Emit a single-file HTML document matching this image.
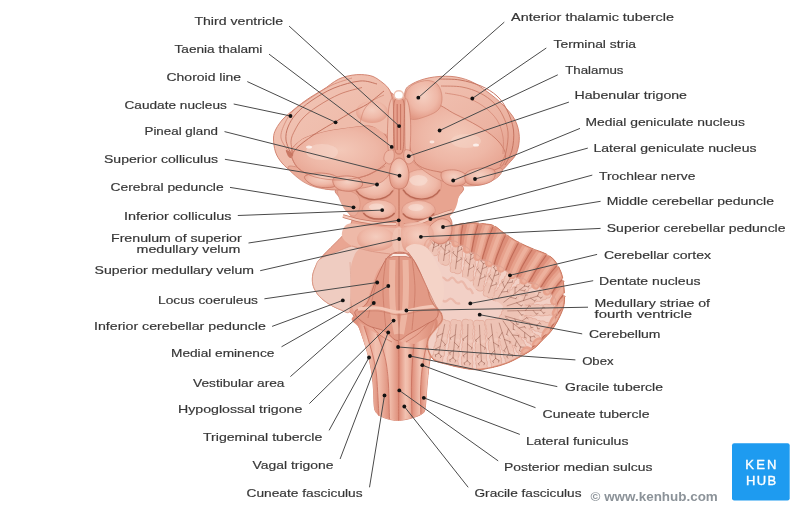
<!DOCTYPE html>
<html><head><meta charset="utf-8"><style>
html,body{margin:0;padding:0;background:#fff;width:800px;height:512px;overflow:hidden}
svg{display:block;will-change:transform}
text{font-family:"Liberation Sans",sans-serif;font-size:11.6px;fill:#363636;stroke:#363636;stroke-width:0.18px}
</style></head><body>
<svg width="800" height="512" viewBox="0 0 800 512">
<defs>
<radialGradient id="gL" cx="0.62" cy="0.62" r="0.65">
 <stop offset="0" stop-color="#f2c4b4"/><stop offset="0.5" stop-color="#edb3a2"/><stop offset="1" stop-color="#e29985"/>
</radialGradient>
<radialGradient id="gR" cx="0.38" cy="0.62" r="0.65">
 <stop offset="0" stop-color="#f2c4b4"/><stop offset="0.5" stop-color="#edb3a2"/><stop offset="1" stop-color="#e29985"/>
</radialGradient>
<linearGradient id="gMed" x1="0" x2="1" y1="0" y2="0">
 <stop offset="0" stop-color="#dc8b76"/><stop offset="0.22" stop-color="#e9a591"/><stop offset="0.5" stop-color="#efb6a4"/><stop offset="0.78" stop-color="#e8a490"/><stop offset="1" stop-color="#d98974"/>
</linearGradient>
<radialGradient id="gBump" cx="0.5" cy="0.4" r="0.62">
 <stop offset="0" stop-color="#f5d0c2"/><stop offset="0.6" stop-color="#efb8a7"/><stop offset="1" stop-color="#e29884"/>
</radialGradient>
<radialGradient id="gTh" cx="0.5" cy="0.45" r="0.6">
 <stop offset="0" stop-color="#f3c8b8"/><stop offset="0.6" stop-color="#eeb7a6"/><stop offset="1" stop-color="#e8a592"/>
</radialGradient>
<linearGradient id="gStripe" x1="0" x2="1" y1="0" y2="0">
 <stop offset="0" stop-color="#dc8f7a"/><stop offset="0.5" stop-color="#f1b8a5"/><stop offset="1" stop-color="#dc8f7a"/>
</linearGradient>
<linearGradient id="gCol" x1="0" x2="1" y1="0" y2="0">
 <stop offset="0" stop-color="#dd8a76"/><stop offset="0.45" stop-color="#f2c1b0"/><stop offset="0.6" stop-color="#f0bba9"/><stop offset="1" stop-color="#de8e7a"/>
</linearGradient>
<linearGradient id="gLobeL" x1="0" y1="0.2" x2="0.7" y2="1">
 <stop offset="0" stop-color="#f1c4b5"/><stop offset="0.55" stop-color="#efbcab"/><stop offset="1" stop-color="#e29985"/>
</linearGradient>
<linearGradient id="gLobeR" x1="0.2" y1="0.1" x2="0.9" y2="1">
 <stop offset="0" stop-color="#f0c0b0"/><stop offset="0.55" stop-color="#ecb3a2"/><stop offset="1" stop-color="#df937f"/>
</linearGradient>
</defs>
<path d="M388.0,92.0 C385.8,93.7 391.7,108.7 392.0,120.0 C392.3,131.3 393.7,149.2 390.0,160.0 C386.3,170.8 378.8,180.2 370.0,185.0 C361.2,189.8 342.0,186.8 337.0,189.0 C332.0,191.2 338.5,195.2 340.0,198.0 C341.5,200.8 344.3,203.3 346.0,206.0 C347.7,208.7 349.0,211.7 350.0,214.0 C351.0,216.3 352.2,217.7 352.0,220.0 C351.8,222.3 350.2,225.4 348.6,228.0 C347.1,230.6 345.0,233.0 342.7,235.6 C340.4,238.2 337.6,240.8 335.0,243.4 C332.4,246.0 329.5,248.7 327.0,251.3 C324.5,253.9 321.9,256.4 320.0,259.0 C318.1,261.6 316.6,264.1 315.4,267.0 C314.1,269.9 312.8,273.4 312.5,276.6 C312.2,279.8 312.3,283.1 313.4,286.4 C314.5,289.7 316.7,293.3 319.3,296.2 C321.9,299.1 325.4,301.7 329.0,304.0 C332.6,306.3 337.3,308.5 340.8,309.8 C344.3,311.1 347.6,310.6 350.0,312.0 C352.4,313.4 353.6,315.7 355.0,318.0 C356.4,320.3 357.4,323.3 358.5,326.0 C359.6,328.7 360.4,330.8 361.5,334.0 C362.6,337.2 363.9,340.9 365.2,345.0 C366.4,349.1 367.9,353.8 369.0,358.6 C370.1,363.4 371.2,368.6 372.0,374.0 C372.8,379.4 373.2,385.7 373.6,391.0 C374.0,396.3 373.7,402.3 374.2,406.0 C374.7,409.7 374.9,411.0 376.6,413.0 C378.3,415.0 381.5,416.6 384.4,417.8 C387.3,419.0 390.9,419.8 393.8,420.2 C396.6,420.6 398.5,420.6 401.6,420.2 C404.7,419.8 409.1,418.9 412.5,417.8 C415.9,416.8 419.8,415.4 421.9,413.9 C424.0,412.4 424.2,412.8 425.0,409.0 C425.8,405.2 426.1,396.6 426.6,391.0 C427.1,385.4 427.4,380.8 428.0,375.6 C428.6,370.4 428.7,365.9 430.0,360.0 C431.3,354.1 432.7,350.0 436.0,340.0 C439.3,330.0 447.7,315.0 450.0,300.0 C452.3,285.0 449.7,262.7 450.0,250.0 C450.3,237.3 452.2,229.8 452.0,224.0 C451.8,218.2 449.0,217.8 449.0,215.0 C449.0,212.2 450.5,210.0 452.0,207.0 C453.5,204.0 456.3,200.5 458.0,197.0 C459.7,193.5 466.7,189.7 462.0,186.0 C457.3,182.3 438.7,181.0 430.0,175.0 C421.3,169.0 414.2,160.8 410.0,150.0 C405.8,139.2 408.7,119.7 405.0,110.0 C401.3,100.3 390.2,90.3 388.0,92.0Z" fill="#e9a592" stroke="#cf7d69" stroke-width="0.9" />
<path d="M354.0,316.0 C347.2,320.7 357.2,323.2 359.0,328.0 C360.8,332.8 363.3,339.9 365.0,345.0 C366.7,350.1 367.8,353.8 369.0,358.6 C370.2,363.4 371.2,368.6 372.0,374.0 C372.8,379.4 373.2,385.7 373.6,391.0 C374.0,396.3 373.7,402.3 374.2,406.0 C374.7,409.7 374.9,411.0 376.6,413.0 C378.3,415.0 381.5,416.6 384.4,417.8 C387.3,419.0 390.9,419.8 393.8,420.2 C396.6,420.6 398.5,420.6 401.6,420.2 C404.7,419.8 409.1,418.9 412.5,417.8 C415.9,416.8 419.8,415.4 421.9,413.9 C424.0,412.4 424.2,412.8 425.0,409.0 C425.8,405.2 426.1,396.6 426.6,391.0 C427.1,385.4 427.4,380.8 428.0,375.6 C428.6,370.4 429.3,365.9 430.0,360.0 C430.7,354.1 431.0,347.0 432.0,340.0 C433.0,333.0 441.3,324.7 436.0,318.0 C430.7,311.3 413.7,300.3 400.0,300.0 C386.3,299.7 360.8,311.3 354.0,316.0Z" fill="url(#gMed)" stroke="none" stroke-width="0.8" />
<path d="M356.0,318.0 L361.0,333.0 L366.0,348.0 L370.0,363.0 L372.5,378.0 L373.6,391.0 L374.2,406.0 L376.6,413.0 L379.0,416.0 L378.0,398.0 L376.5,375.0 L373.5,358.0 L369.0,342.0 L364.0,326.0Z" fill="url(#gCol)"/>
<path d="M364.0,326.0 L369.0,342.0 L373.5,358.0 L376.5,375.0 L378.0,398.0 L379.0,416.0 L389.5,419.0 L388.5,385.0 L386.5,365.0 L383.0,350.0 L377.0,334.0Z" fill="url(#gCol)"/>
<path d="M377.0,334.0 L383.0,350.0 L386.5,365.0 L388.5,385.0 L389.5,419.0 L398.6,420.5 L398.6,400.0 L398.8,380.0 L398.8,360.0 L398.5,341.0Z" fill="url(#gCol)"/>
<path d="M398.5,341.0 L398.8,360.0 L398.8,380.0 L398.6,400.0 L398.6,420.5 L412.0,418.0 L411.5,398.0 L411.6,378.0 L412.5,360.0 L414.0,344.0Z" fill="url(#gCol)"/>
<path d="M414.0,344.0 L412.5,360.0 L411.6,378.0 L411.5,398.0 L412.0,418.0 L420.8,414.0 L420.5,390.0 L422.0,370.0 L425.0,352.0 L430.0,336.0Z" fill="url(#gCol)"/>
<path d="M430.0,336.0 L425.0,352.0 L422.0,370.0 L420.5,390.0 L420.8,414.0 L425.0,409.0 L426.6,391.0 L428.0,375.0 L430.0,352.0 L433.0,336.0 L436.0,318.0Z" fill="url(#gCol)"/>
<path d="M364.0,326.0 C364.8,328.7 367.4,336.7 369.0,342.0 C370.6,347.3 372.2,352.5 373.5,358.0 C374.8,363.5 375.8,368.3 376.5,375.0 C377.2,381.7 377.6,391.2 378.0,398.0 C378.4,404.8 378.8,413.0 379.0,416.0" fill="none" stroke="#c8705d" stroke-width="0.9" opacity="0.9"/>
<path d="M377.0,334.0 C378.0,336.7 381.4,344.8 383.0,350.0 C384.6,355.2 385.6,359.2 386.5,365.0 C387.4,370.8 388.0,376.0 388.5,385.0 C389.0,394.0 389.3,413.3 389.5,419.0" fill="none" stroke="#c8705d" stroke-width="0.9" opacity="0.9"/>
<path d="M398.5,341.0 C398.6,344.2 398.8,353.5 398.8,360.0 C398.9,366.5 398.8,373.3 398.8,380.0 C398.8,386.7 398.6,393.2 398.6,400.0 C398.6,406.8 398.6,417.1 398.6,420.5" fill="none" stroke="#c8705d" stroke-width="0.9" opacity="0.9"/>
<path d="M414.0,344.0 C413.8,346.7 412.9,354.3 412.5,360.0 C412.1,365.7 411.8,371.7 411.6,378.0 C411.4,384.3 411.4,391.3 411.5,398.0 C411.6,404.7 411.9,414.7 412.0,418.0" fill="none" stroke="#c8705d" stroke-width="0.9" opacity="0.9"/>
<path d="M430.0,336.0 C429.2,338.7 426.3,346.3 425.0,352.0 C423.7,357.7 422.8,363.7 422.0,370.0 C421.2,376.3 420.7,382.7 420.5,390.0 C420.3,397.3 420.8,410.0 420.8,414.0" fill="none" stroke="#c8705d" stroke-width="0.9" opacity="0.9"/>
<path d="M368.0,322.0 C370.0,324.2 376.0,331.7 380.0,335.0 C384.0,338.3 390.0,340.8 392.0,342.0" fill="none" stroke="#c97764" stroke-width="0.8" />
<path d="M430.0,322.0 C428.0,324.0 422.0,330.7 418.0,334.0 C414.0,337.3 408.0,340.7 406.0,342.0" fill="none" stroke="#c97764" stroke-width="0.8" />
<path d="M320.0,259.0 C323.4,256.5 330.7,254.2 336.0,252.0 C341.3,249.8 347.7,247.0 352.0,246.0 C356.3,245.0 361.3,243.3 362.0,246.0 C362.7,248.7 357.7,255.5 356.0,262.0 C354.3,268.5 353.0,276.8 352.0,285.0 C351.0,293.2 351.9,306.9 350.0,311.0 C348.1,315.1 344.3,311.0 340.8,309.8 C337.3,308.6 332.6,306.3 329.0,304.0 C325.4,301.7 321.9,299.1 319.3,296.2 C316.7,293.3 314.5,289.7 313.4,286.4 C312.3,283.1 312.2,279.8 312.5,276.6 C312.8,273.4 314.1,269.9 315.4,267.0 C316.6,264.1 316.6,261.5 320.0,259.0Z" fill="#efccc1" stroke="#d99380" stroke-width="0.7" />
<path d="M350.0,262.0 C350.2,266.7 351.0,282.0 351.0,290.0 C351.0,298.0 350.2,306.7 350.0,310.0" fill="none" stroke="#e2a898" stroke-width="0.8" />
<path d="M352.0,262.0 C353.8,256.7 355.7,249.3 362.0,248.0 C368.3,246.7 387.5,250.0 390.0,254.0 C392.5,258.0 380.8,264.3 377.0,272.0 C373.2,279.7 370.5,293.2 367.0,300.0 C363.5,306.8 358.7,313.0 356.0,313.0 C353.3,313.0 351.8,305.5 351.0,300.0 C350.2,294.5 350.8,286.3 351.0,280.0 C351.2,273.7 350.2,267.3 352.0,262.0Z" fill="#ecb4a3" stroke="none" stroke-width="0.8" />
<path d="M348.0,224.0 C352.7,222.3 361.7,225.3 370.0,226.0 C378.3,226.7 388.3,228.0 398.0,228.0 C407.7,228.0 419.7,226.3 428.0,226.0 C436.3,225.7 445.0,223.7 448.0,226.0 C451.0,228.3 449.0,236.0 446.0,240.0 C443.0,244.0 436.0,247.7 430.0,250.0 C424.0,252.3 416.7,253.3 410.0,254.0 C403.3,254.7 397.0,254.5 390.0,254.0 C383.0,253.5 374.3,252.3 368.0,251.0 C361.7,249.7 356.3,248.5 352.0,246.0 C347.7,243.5 342.7,239.7 342.0,236.0 C341.3,232.3 343.3,225.7 348.0,224.0Z" fill="#eeb9a8" stroke="none" stroke-width="0.8" />
<ellipse cx="376" cy="239" rx="19" ry="12" fill="url(#gBump)" stroke="none" stroke-width="0.7" opacity="0.85"/>
<ellipse cx="421" cy="239" rx="17" ry="12" fill="url(#gBump)" stroke="none" stroke-width="0.7" opacity="0.85"/>
<ellipse cx="399" cy="240" rx="7" ry="13" fill="#f1c6b7" stroke="none" stroke-width="0.7" opacity="0.7"/>
<path d="M399.0,229.0 C399.0,232.8 399.0,248.2 399.0,252.0" fill="none" stroke="#e2a592" stroke-width="0.8" opacity="0.6"/>
<path d="M352.0,246.0 C355.0,246.8 363.7,249.7 370.0,251.0 C376.3,252.3 386.7,253.5 390.0,254.0" fill="none" stroke="#d48a77" stroke-width="0.7" />
<path d="M390.6,254.5 C395.8,251.1 404.1,251.6 409.0,254.5 C413.9,257.4 416.2,265.8 420.0,272.0 C423.8,278.2 429.0,284.8 432.0,292.0 C435.0,299.2 439.2,309.5 438.0,315.0 C436.8,320.5 429.8,321.8 425.0,325.0 C420.2,328.2 413.7,331.4 409.0,334.0 C404.3,336.6 401.1,341.0 397.0,340.5 C392.9,340.0 389.4,333.6 384.4,331.0 C379.4,328.4 371.9,328.1 367.0,325.0 C362.1,321.9 354.7,316.2 354.7,312.5 C354.7,308.8 363.1,309.2 367.0,303.0 C370.9,296.8 374.1,283.1 378.0,275.0 C381.9,266.9 385.4,257.9 390.6,254.5Z" fill="#e29a86" stroke="#c36f5c" stroke-width="0.9" />
<path d="M388.5,258 L393,253.5 L406,253.5 L411,258 L406,256.5 L393,256.5Z" fill="#fbeae3" stroke="#c36f5c" stroke-width="0.7"/>
<path d="M392.5,260.0 C392.4,264.2 391.9,276.7 392.0,285.0 C392.1,293.3 392.2,301.8 393.0,310.0 C393.8,318.2 396.3,330.0 397.0,334.0" fill="none" stroke="#f0bba9" stroke-width="6" opacity="0.8"/>
<path d="M405.5,260.0 C405.6,264.2 406.1,276.7 406.0,285.0 C405.9,293.3 405.8,301.8 405.0,310.0 C404.2,318.2 401.7,330.0 401.0,334.0" fill="none" stroke="#f0bba9" stroke-width="6" opacity="0.8"/>
<path d="M399.0,256.0 C399.0,263.3 399.0,286.0 399.0,300.0 C399.0,314.0 399.0,333.3 399.0,340.0" fill="none" stroke="#b86a58" stroke-width="0.8" />
<path d="M386.0,258.0 C385.5,263.3 383.0,278.0 383.0,290.0 C383.0,302.0 385.5,323.3 386.0,330.0" fill="none" stroke="#c87562" stroke-width="0.7" />
<path d="M412.0,258.0 C412.5,263.3 415.0,278.0 415.0,290.0 C415.0,302.0 412.5,323.3 412.0,330.0" fill="none" stroke="#c87562" stroke-width="0.7" />
<path d="M377.0,280.0 C376.2,283.3 373.5,293.7 372.0,300.0 C370.5,306.3 368.7,315.0 368.0,318.0" fill="none" stroke="#c87562" stroke-width="0.7" />
<path d="M358.0,309.0 C361.3,308.8 371.2,307.5 378.0,308.0 C384.8,308.5 392.0,312.0 399.0,312.0 C406.0,312.0 413.5,309.0 420.0,308.0 C426.5,307.0 435.0,306.3 438.0,306.0" fill="none" stroke="#f3c6b6" stroke-width="3.2" />
<path d="M358.0,312.0 C361.3,311.8 371.2,310.5 378.0,311.0 C384.8,311.5 392.0,315.0 399.0,315.0 C406.0,315.0 413.5,312.0 420.0,311.0 C426.5,310.0 435.0,309.3 438.0,309.0" fill="none" stroke="#c97a66" stroke-width="0.6" />
<path d="M343.0,188.0 C351.2,183.2 376.3,176.3 395.0,176.0 C413.7,175.7 444.5,182.0 455.0,186.0 C465.5,190.0 458.8,195.0 458.0,200.0 C457.2,205.0 454.7,212.0 450.0,216.0 C445.3,220.0 438.5,222.3 430.0,224.0 C421.5,225.7 409.3,226.0 399.0,226.0 C388.7,226.0 375.8,225.3 368.0,224.0 C360.2,222.7 355.7,221.2 352.0,218.0 C348.3,214.8 347.5,210.0 346.0,205.0 C344.5,200.0 334.8,192.8 343.0,188.0Z" fill="#e8a490" stroke="none" stroke-width="0.8" />
<path d="M338.0,190.0 C340.0,187.7 352.3,191.3 356.0,194.0 C359.7,196.7 360.3,202.3 360.0,206.0 C359.7,209.7 356.7,215.7 354.0,216.0 C351.3,216.3 346.7,212.3 344.0,208.0 C341.3,203.7 336.0,192.3 338.0,190.0Z" fill="#eaad9b" stroke="#d38874" stroke-width="0.5" />
<ellipse cx="374.5" cy="186" rx="20" ry="15" fill="url(#gBump)" stroke="#d9917e" stroke-width="0.6" />
<path d="M356.1,190.5 A20,15 0 0 0 392.9,190.5" fill="none" stroke="#b25e4a" stroke-width="1.4" opacity="0.85"/>
<ellipse cx="371.5" cy="181.5" rx="9.0" ry="5.25" fill="#f9e0d6" stroke="none" stroke-width="0.7" opacity="0.6"/>
<ellipse cx="421.5" cy="185" rx="20" ry="15.5" fill="url(#gBump)" stroke="#d9917e" stroke-width="0.6" />
<path d="M403.1,189.7 A20,15.5 0 0 0 439.9,189.7" fill="none" stroke="#b25e4a" stroke-width="1.4" opacity="0.85"/>
<ellipse cx="418.5" cy="180.35" rx="9.0" ry="5.425" fill="#f9e0d6" stroke="none" stroke-width="0.7" opacity="0.6"/>
<ellipse cx="379" cy="210" rx="17" ry="10" fill="url(#gBump)" stroke="#d9917e" stroke-width="0.6" />
<path d="M363.4,213.0 A17,10 0 0 0 394.6,213.0" fill="none" stroke="#b25e4a" stroke-width="1.4" opacity="0.85"/>
<ellipse cx="376.45" cy="207.0" rx="7.65" ry="3.5" fill="#f9e0d6" stroke="none" stroke-width="0.7" opacity="0.6"/>
<ellipse cx="418.5" cy="210.5" rx="17" ry="10" fill="url(#gBump)" stroke="#d9917e" stroke-width="0.6" />
<path d="M402.9,213.5 A17,10 0 0 0 434.1,213.5" fill="none" stroke="#b25e4a" stroke-width="1.4" opacity="0.85"/>
<ellipse cx="415.95" cy="207.5" rx="7.65" ry="3.5" fill="#f9e0d6" stroke="none" stroke-width="0.7" opacity="0.6"/>
<path d="M399.0,180.0 C399.0,183.3 399.0,192.3 399.0,200.0 C399.0,207.7 399.0,221.7 399.0,226.0" fill="none" stroke="#b9654f" stroke-width="0.9" />
<path d="M343.0,216.0 C346.2,216.8 355.0,219.7 362.0,221.0 C369.0,222.3 379.3,223.5 385.0,224.0 C390.7,224.5 394.2,224.0 396.0,224.0" fill="none" stroke="#c97a67" stroke-width="3.6" />
<path d="M343.0,216.0 C346.2,216.8 355.0,219.7 362.0,221.0 C369.0,222.3 379.3,223.5 385.0,224.0 C390.7,224.5 394.2,224.0 396.0,224.0" fill="none" stroke="#f4cabb" stroke-width="2.2" />
<path d="M404.0,225.0 C406.3,224.7 413.0,224.3 418.0,223.0 C423.0,221.7 428.3,219.0 434.0,217.0 C439.7,215.0 449.0,212.0 452.0,211.0" fill="none" stroke="#c97a67" stroke-width="3.6" />
<path d="M404.0,225.0 C406.3,224.7 413.0,224.3 418.0,223.0 C423.0,221.7 428.3,219.0 434.0,217.0 C439.7,215.0 449.0,212.0 452.0,211.0" fill="none" stroke="#f4cabb" stroke-width="2.2" />
<path d="M273.5,138.0 C273.6,134.2 274.4,132.2 276.0,129.0 C277.6,125.8 280.4,121.9 283.0,119.0 C285.6,116.1 288.4,114.1 291.5,111.5 C294.6,108.9 298.4,105.8 301.5,103.5 C304.6,101.2 307.1,99.4 310.0,97.5 C312.9,95.6 316.0,93.9 318.8,92.2 C321.6,90.5 324.0,89.1 326.6,87.3 C329.2,85.5 331.9,83.1 334.5,81.5 C337.1,79.9 339.4,78.6 342.3,77.6 C345.2,76.5 348.8,75.7 352.0,75.2 C355.2,74.7 358.3,74.4 361.8,74.6 C365.3,74.8 369.5,75.1 373.0,76.5 C376.5,77.9 380.2,80.8 383.0,83.0 C385.8,85.2 387.9,87.2 389.5,90.0 C391.1,92.8 391.8,95.3 392.5,100.0 C393.2,104.7 393.6,111.7 393.5,118.0 C393.4,124.3 392.6,131.8 392.0,138.0 C391.4,144.2 391.3,149.7 390.0,155.0 C388.7,160.3 387.3,165.5 384.0,170.0 C380.7,174.5 375.3,179.0 370.0,182.0 C364.7,185.0 357.5,186.8 352.0,188.0 C346.5,189.2 341.3,189.3 337.0,189.5 C332.7,189.7 330.0,189.9 326.0,189.0 C322.0,188.1 317.0,185.8 313.0,184.0 C309.0,182.2 305.5,180.0 302.0,178.0 C298.5,176.0 295.3,174.5 292.0,172.0 C288.7,169.5 284.8,166.3 282.0,163.0 C279.2,159.7 276.9,156.2 275.5,152.0 C274.1,147.8 273.4,141.8 273.5,138.0Z" fill="url(#gLobeL)" stroke="#cf7d69" stroke-width="0.9" />
<path d="M290.0,166.0 C296.2,165.7 322.0,174.5 335.0,176.0 C348.0,177.5 358.8,177.7 368.0,175.0 C377.2,172.3 386.7,159.8 390.0,160.0 C393.3,160.2 391.0,171.7 388.0,176.0 C385.0,180.3 380.0,183.7 372.0,186.0 C364.0,188.3 349.5,189.8 340.0,190.0 C330.5,190.2 322.0,189.0 315.0,187.0 C308.0,185.0 302.2,181.5 298.0,178.0 C293.8,174.5 283.8,166.3 290.0,166.0Z" fill="#eaab98" stroke="#cf8370" stroke-width="0.7" />
<path d="M291.0,152.0 C291.3,147.5 296.7,143.8 300.0,141.0 C303.3,138.2 306.7,137.2 311.0,135.5 C315.3,133.8 321.0,132.2 326.0,131.0 C331.0,129.8 336.0,129.2 341.0,128.5 C346.0,127.8 350.9,126.9 356.0,126.5 C361.1,126.1 366.9,124.8 371.6,126.0 C376.3,127.2 381.2,129.8 384.3,133.5 C387.4,137.2 389.7,143.1 390.0,148.0 C390.3,152.9 390.2,158.3 386.0,163.0 C381.8,167.7 372.7,173.2 365.0,176.0 C357.3,178.8 348.3,179.8 340.0,180.0 C331.7,180.2 322.0,179.0 315.0,177.0 C308.0,175.0 302.0,172.2 298.0,168.0 C294.0,163.8 290.7,156.5 291.0,152.0Z" fill="url(#gTh)" stroke="#c97966" stroke-width="0.9" />
<ellipse cx="322" cy="152" rx="16" ry="8" fill="#f8dcd0" stroke="none" stroke-width="0.7" opacity="0.45"/>
<ellipse cx="309" cy="147" rx="3" ry="1.6" fill="#fff" opacity="0.7"/>
<path d="M292.0,150.0 C292.8,149.8 300.7,143.0 305.0,140.0 C309.3,137.0 313.0,135.0 318.0,132.0 C323.0,129.0 329.3,125.3 335.0,122.0 C340.7,118.7 346.6,115.0 352.0,112.0 C357.4,109.0 362.2,107.5 367.5,104.0 C372.8,100.5 380.2,92.5 384.0,91.0 C387.8,89.5 388.5,92.2 390.0,95.0 C391.5,97.8 392.6,103.5 393.0,108.0 C393.4,112.5 393.3,118.0 392.5,122.0 C391.7,126.0 389.4,130.1 388.0,132.0 C386.6,133.9 387.0,134.5 384.3,133.5 C381.6,132.5 376.3,127.2 371.6,126.0 C366.9,124.8 361.1,126.1 356.0,126.5 C350.9,126.9 346.0,127.8 341.0,128.5 C336.0,129.2 331.0,129.8 326.0,131.0 C321.0,132.2 315.3,133.8 311.0,135.5 C306.7,137.2 303.2,138.6 300.0,141.0 C296.8,143.4 291.2,150.2 292.0,150.0Z" fill="#efbcab" stroke="none" stroke-width="0.8" />
<ellipse cx="372" cy="112" rx="16" ry="11" fill="url(#gBump)" stroke="none" stroke-width="0.7" opacity="0.9"/>
<path d="M360.0,123.0 C360.7,120.8 362.0,113.7 364.0,110.0 C366.0,106.3 368.7,103.5 372.0,101.0 C375.3,98.5 382.0,96.0 384.0,95.0" fill="none" stroke="#d38672" stroke-width="0.7" />
<path d="M305.0,176.0 C306.7,174.5 313.3,173.2 318.0,173.0 C322.7,172.8 329.3,173.7 333.0,175.0 C336.7,176.3 340.0,179.0 340.0,181.0 C340.0,183.0 336.7,186.0 333.0,187.0 C329.3,188.0 322.2,187.8 318.0,187.0 C313.8,186.2 310.2,183.8 308.0,182.0 C305.8,180.2 303.3,177.5 305.0,176.0Z" fill="url(#gBump)" stroke="#c97764" stroke-width="0.8" />
<path d="M334.0,178.0 C336.3,176.5 343.7,175.8 348.0,176.0 C352.3,176.2 357.7,177.3 360.0,179.0 C362.3,180.7 363.3,184.0 362.0,186.0 C360.7,188.0 355.7,190.3 352.0,191.0 C348.3,191.7 343.0,191.0 340.0,190.0 C337.0,189.0 335.0,187.0 334.0,185.0 C333.0,183.0 331.7,179.5 334.0,178.0Z" fill="url(#gBump)" stroke="#c97764" stroke-width="0.8" />
<path d="M291.0,154.0 C290.2,151.7 286.5,144.5 286.0,140.0 C285.5,135.5 286.3,131.3 288.0,127.0 C289.7,122.7 292.2,118.3 296.0,114.0 C299.8,109.7 304.7,105.3 311.0,101.0 C317.3,96.7 325.8,91.3 334.0,88.0 C342.2,84.7 352.8,81.7 360.0,81.0 C367.2,80.3 374.2,83.5 377.0,84.0" fill="none" stroke="#c67562" stroke-width="1.0" />
<path d="M293.0,154.0 C292.7,151.8 290.7,145.0 291.0,141.0 C291.3,137.0 293.0,133.8 295.0,130.0 C297.0,126.2 299.2,122.0 303.0,118.0 C306.8,114.0 311.8,110.0 318.0,106.0 C324.2,102.0 332.7,97.1 340.0,94.0 C347.3,90.9 358.3,88.6 362.0,87.5" fill="none" stroke="#cc7d69" stroke-width="0.9" />
<path d="M289.0,152.0 C287.7,149.7 281.7,142.8 281.0,138.0 C280.3,133.2 282.8,127.7 285.0,123.0 C287.2,118.3 289.5,114.3 294.0,110.0 C298.5,105.7 305.7,101.2 312.0,97.0 C318.3,92.8 325.3,88.2 332.0,85.0 C338.7,81.8 348.7,79.2 352.0,78.0" fill="none" stroke="#d48875" stroke-width="0.8" />
<path d="M286.0,150.0 C285.2,150.3 287.2,154.7 288.0,156.0 C288.8,157.3 290.2,158.3 291.0,158.0 C291.8,157.7 293.8,155.3 293.0,154.0 C292.2,152.7 286.8,149.7 286.0,150.0Z" fill="#c97864" stroke="none" stroke-width="0.8" />
<path d="M291.0,155.0 C292.5,153.3 295.5,148.8 300.0,145.0 C304.5,141.2 312.2,135.8 318.0,132.0 C323.8,128.2 329.3,125.3 335.0,122.0 C340.7,118.7 346.6,115.0 352.0,112.0 C357.4,109.0 362.2,107.5 367.5,104.0 C372.8,100.5 381.2,93.2 384.0,91.0" fill="none" stroke="#c57460" stroke-width="1.0" />
<path d="M291.0,156.0 C292.2,158.0 294.0,164.5 298.0,168.0 C302.0,171.5 308.0,175.0 315.0,177.0 C322.0,179.0 331.7,180.2 340.0,180.0 C348.3,179.8 357.5,178.3 365.0,176.0 C372.5,173.7 381.7,167.7 385.0,166.0" fill="none" stroke="#cf8370" stroke-width="0.8" />
<path d="M405.0,92.0 C406.2,86.9 408.0,86.4 412.0,84.0 C416.0,81.6 422.7,79.1 429.2,77.8 C435.7,76.5 444.2,75.9 451.0,76.4 C457.8,76.9 464.0,78.5 470.0,81.0 C476.0,83.5 481.5,87.5 487.0,91.5 C492.5,95.5 498.3,100.2 503.0,105.0 C507.7,109.8 512.3,114.8 515.0,120.0 C517.7,125.2 519.0,131.0 519.3,136.5 C519.6,142.0 518.4,148.3 516.6,152.9 C514.8,157.5 511.6,160.2 508.4,163.8 C505.2,167.5 500.7,172.1 497.5,174.8 C494.3,177.5 492.5,178.6 489.3,180.2 C486.1,181.8 482.9,183.6 478.4,184.3 C473.8,185.0 467.5,185.0 462.0,184.3 C456.5,183.6 450.9,182.2 445.6,180.2 C440.3,178.1 435.3,175.4 430.0,172.0 C424.7,168.6 417.8,165.3 414.0,160.0 C410.2,154.7 408.6,147.6 407.0,140.0 C405.4,132.4 404.9,122.6 404.6,114.6 C404.3,106.6 403.8,97.1 405.0,92.0Z" fill="url(#gLobeR)" stroke="#cf7d69" stroke-width="0.9" />
<path d="M412.0,160.0 C413.3,159.3 430.3,169.5 440.0,172.0 C449.7,174.5 460.0,175.7 470.0,175.0 C480.0,174.3 495.3,167.7 500.0,168.0 C504.7,168.3 501.3,174.2 498.0,177.0 C494.7,179.8 487.2,183.7 480.0,185.0 C472.8,186.3 463.0,186.5 455.0,185.0 C447.0,183.5 439.2,180.2 432.0,176.0 C424.8,171.8 410.7,160.7 412.0,160.0Z" fill="#eaab98" stroke="#cf8370" stroke-width="0.7" />
<path d="M409.8,120.0 C413.5,112.7 425.0,105.0 432.5,104.0 C440.0,103.0 447.4,110.3 455.0,114.0 C462.6,117.7 471.3,122.0 478.0,126.0 C484.7,130.0 490.7,134.1 495.0,138.0 C499.3,141.9 502.3,145.8 504.0,149.5 C505.7,153.2 506.2,156.8 505.0,160.0 C503.8,163.2 502.8,166.7 497.0,169.0 C491.2,171.3 479.5,173.5 470.0,174.0 C460.5,174.5 448.7,173.5 440.0,172.0 C431.3,170.5 423.0,169.0 418.0,165.0 C413.0,161.0 411.4,155.5 410.0,148.0 C408.6,140.5 406.0,127.3 409.8,120.0Z" fill="url(#gTh)" stroke="#cb7b67" stroke-width="0.9" />
<ellipse cx="466" cy="141" rx="15" ry="7" fill="#f8dcd0" stroke="none" stroke-width="0.7" opacity="0.4"/>
<ellipse cx="476" cy="145" rx="3" ry="1.6" fill="#fff" opacity="0.7"/>
<ellipse cx="432" cy="142" rx="2.5" ry="1.4" fill="#fff" opacity="0.6"/>
<path d="M406.0,92.0 C407.4,88.3 410.3,85.9 414.0,84.0 C417.7,82.1 424.0,80.3 428.0,80.5 C432.0,80.7 435.7,82.2 438.0,85.0 C440.3,87.8 441.8,93.0 442.0,97.0 C442.2,101.0 441.5,105.8 439.0,109.0 C436.5,112.2 431.7,114.3 427.0,116.0 C422.3,117.7 414.6,120.7 411.0,119.0 C407.4,117.3 406.3,110.5 405.5,106.0 C404.7,101.5 404.6,95.7 406.0,92.0Z" fill="url(#gBump)" stroke="#d38672" stroke-width="0.7" />
<path d="M439.0,79.0 C442.5,79.2 453.0,78.8 460.0,80.0 C467.0,81.2 474.8,83.3 481.0,86.0 C487.2,88.7 492.7,92.0 497.0,96.0 C501.3,100.0 504.2,104.3 507.0,110.0 C509.8,115.7 512.7,123.3 513.5,130.0 C514.3,136.7 513.4,144.2 512.0,150.0 C510.6,155.8 506.2,162.5 505.0,165.0" fill="none" stroke="#c67562" stroke-width="1.0" />
<path d="M441.0,86.0 C444.5,86.2 455.5,85.8 462.0,87.0 C468.5,88.2 474.7,90.3 480.0,93.0 C485.3,95.7 490.2,99.2 494.0,103.0 C497.8,106.8 500.7,111.2 503.0,116.0 C505.3,120.8 507.5,126.0 508.0,132.0 C508.5,138.0 507.3,146.3 506.0,152.0 C504.7,157.7 501.0,163.7 500.0,166.0" fill="none" stroke="#cc7d69" stroke-width="0.9" />
<path d="M445.0,93.0 C448.3,93.7 458.7,94.8 465.0,97.0 C471.3,99.2 477.7,102.2 483.0,106.0 C488.3,109.8 493.7,114.8 497.0,120.0 C500.3,125.2 502.0,131.3 503.0,137.0 C504.0,142.7 503.0,151.2 503.0,154.0" fill="none" stroke="#d48875" stroke-width="0.8" />
<path d="M442.0,172.0 C444.0,170.2 451.0,169.5 455.0,170.0 C459.0,170.5 464.5,172.7 466.0,175.0 C467.5,177.3 466.3,182.2 464.0,184.0 C461.7,185.8 455.5,186.5 452.0,186.0 C448.5,185.5 444.7,183.3 443.0,181.0 C441.3,178.7 440.0,173.8 442.0,172.0Z" fill="url(#gBump)" stroke="#c97a67" stroke-width="0.7" />
<path d="M466.0,173.0 C468.2,170.5 475.3,168.5 480.0,168.0 C484.7,167.5 491.8,168.0 494.0,170.0 C496.2,172.0 495.3,177.5 493.0,180.0 C490.7,182.5 484.3,184.5 480.0,185.0 C475.7,185.5 469.3,185.0 467.0,183.0 C464.7,181.0 463.8,175.5 466.0,173.0Z" fill="url(#gBump)" stroke="#c97a67" stroke-width="0.7" />
<path d="M392.0,99.0 C394.8,93.8 403.2,93.8 406.0,99.0 C408.8,104.2 408.5,119.8 409.0,130.0 C409.5,140.2 410.7,154.0 409.0,160.0 C407.3,166.0 402.3,166.0 399.0,166.0 C395.7,166.0 390.7,166.0 389.0,160.0 C387.3,154.0 388.5,140.2 389.0,130.0 C389.5,119.8 389.2,104.2 392.0,99.0Z" fill="#e8a591" stroke="none" stroke-width="0.8" />
<path d="M389.5,104.0 C390.3,101.0 392.3,95.7 393.0,100.0 C393.7,104.3 393.5,121.3 393.5,130.0 C393.5,138.7 393.7,147.7 393.0,152.0 C392.3,156.3 390.4,158.0 389.5,156.0 C388.6,154.0 387.8,146.3 387.5,140.0 C387.2,133.7 387.7,124.0 388.0,118.0 C388.3,112.0 388.7,107.0 389.5,104.0Z" fill="#efbcab" stroke="#cd7b68" stroke-width="0.7" />
<path d="M405.0,100.0 C405.6,95.7 407.6,100.7 408.5,104.0 C409.4,107.3 410.2,114.0 410.5,120.0 C410.8,126.0 410.8,134.0 410.5,140.0 C410.2,146.0 409.8,154.0 409.0,156.0 C408.2,158.0 406.2,156.3 405.5,152.0 C404.8,147.7 404.9,138.7 404.8,130.0 C404.7,121.3 404.4,104.3 405.0,100.0Z" fill="#efbcab" stroke="#cd7b68" stroke-width="0.7" />
<path d="M394.5,101.0 C396.1,96.2 401.9,96.2 403.5,101.0 C405.1,105.8 404.1,121.8 404.0,130.0 C403.9,138.2 403.8,146.0 403.0,150.0 C402.2,154.0 400.3,154.0 399.0,154.0 C397.7,154.0 395.8,154.0 395.0,150.0 C394.2,146.0 394.1,138.2 394.0,130.0 C393.9,121.8 392.9,105.8 394.5,101.0Z" fill="#e7a08c" stroke="#c06e5b" stroke-width="0.8" />
<line x1="397.2" y1="104" x2="397.2" y2="150" stroke="#bf6756" stroke-width="0.8"/>
<line x1="400.6" y1="104" x2="400.6" y2="150" stroke="#bf6756" stroke-width="0.8"/>
<ellipse cx="398.8" cy="95" rx="4.7" ry="4.3" fill="#fff" stroke="#eec3b4" stroke-width="1.5"/>
<path d="M405.0,150.0 C406.3,149.0 410.5,150.3 412.0,152.0 C413.5,153.7 414.7,158.0 414.0,160.0 C413.3,162.0 409.7,164.3 408.0,164.0 C406.3,163.7 404.5,160.3 404.0,158.0 C403.5,155.7 403.7,151.0 405.0,150.0Z" fill="#eeb8a7" stroke="#cd7b68" stroke-width="0.6" />
<path d="M393.0,150.0 C391.7,149.0 387.5,150.3 386.0,152.0 C384.5,153.7 383.3,158.0 384.0,160.0 C384.7,162.0 388.3,164.3 390.0,164.0 C391.7,163.7 393.5,160.3 394.0,158.0 C394.5,155.7 394.3,151.0 393.0,150.0Z" fill="#eeb8a7" stroke="#cd7b68" stroke-width="0.6" />
<path d="M399.0,158.0 C401.3,158.0 404.3,160.2 406.0,163.0 C407.7,165.8 409.0,171.2 409.0,175.0 C409.0,178.8 407.7,183.7 406.0,186.0 C404.3,188.3 401.3,189.0 399.0,189.0 C396.7,189.0 393.6,188.3 392.0,186.0 C390.4,183.7 389.5,178.8 389.5,175.0 C389.5,171.2 390.4,165.8 392.0,163.0 C393.6,160.2 396.7,158.0 399.0,158.0Z" fill="url(#gBump)" stroke="#c97a67" stroke-width="0.8" />
<clipPath id="cbclip"><path d="M424.0,247.0 C425.3,237.7 431.5,237.4 436.0,234.0 C440.5,230.6 446.9,228.4 451.0,226.7 C455.1,225.0 457.2,224.5 460.8,223.8 C464.4,223.2 468.6,222.8 472.5,222.8 C476.4,222.8 480.6,223.3 484.2,223.8 C487.8,224.3 490.8,224.2 494.0,225.7 C497.2,227.2 499.9,230.1 503.4,232.6 C506.9,235.1 511.3,238.1 515.2,240.4 C519.1,242.7 523.3,244.6 526.9,246.2 C530.5,247.9 533.4,248.9 536.6,250.2 C539.9,251.5 543.5,252.5 546.4,254.1 C549.3,255.7 551.9,257.4 554.2,260.0 C556.5,262.6 558.5,266.4 560.0,269.7 C561.5,272.9 562.3,275.6 563.0,279.5 C563.7,283.4 564.2,288.9 564.4,293.1 C564.6,297.4 564.7,301.2 564.0,305.0 C563.3,308.8 562.0,311.8 560.0,316.0 C558.0,320.2 555.0,325.9 552.0,330.0 C549.0,334.1 544.9,337.5 542.0,340.5 C539.1,343.5 537.8,345.5 534.5,348.0 C531.2,350.5 527.0,353.0 522.5,355.5 C518.0,358.0 512.5,361.0 507.5,363.0 C502.5,365.0 497.5,366.4 492.5,367.5 C487.5,368.6 482.5,369.6 477.5,369.7 C472.5,369.8 467.5,368.9 462.5,368.0 C457.5,367.1 452.2,365.8 447.5,364.5 C442.8,363.2 437.2,362.4 434.0,360.0 C430.8,357.6 429.0,353.5 428.0,350.0 C427.0,346.5 426.8,342.6 428.0,339.0 C429.2,335.4 433.2,331.5 435.5,328.5 C437.8,325.5 440.5,323.2 441.5,321.0 C442.5,318.8 442.2,317.0 441.5,315.0 C440.8,313.0 438.5,311.0 437.0,309.0 C435.5,307.0 434.0,306.2 432.5,303.0 C431.0,299.8 429.4,299.3 428.0,290.0 C426.6,280.7 422.7,256.3 424.0,247.0Z"/></clipPath>
<path d="M424.0,247.0 C425.3,237.7 431.5,237.4 436.0,234.0 C440.5,230.6 446.9,228.4 451.0,226.7 C455.1,225.0 457.2,224.5 460.8,223.8 C464.4,223.2 468.6,222.8 472.5,222.8 C476.4,222.8 480.6,223.3 484.2,223.8 C487.8,224.3 490.8,224.2 494.0,225.7 C497.2,227.2 499.9,230.1 503.4,232.6 C506.9,235.1 511.3,238.1 515.2,240.4 C519.1,242.7 523.3,244.6 526.9,246.2 C530.5,247.9 533.4,248.9 536.6,250.2 C539.9,251.5 543.5,252.5 546.4,254.1 C549.3,255.7 551.9,257.4 554.2,260.0 C556.5,262.6 558.5,266.4 560.0,269.7 C561.5,272.9 562.3,275.6 563.0,279.5 C563.7,283.4 564.2,288.9 564.4,293.1 C564.6,297.4 564.7,301.2 564.0,305.0 C563.3,308.8 562.0,311.8 560.0,316.0 C558.0,320.2 555.0,325.9 552.0,330.0 C549.0,334.1 544.9,337.5 542.0,340.5 C539.1,343.5 537.8,345.5 534.5,348.0 C531.2,350.5 527.0,353.0 522.5,355.5 C518.0,358.0 512.5,361.0 507.5,363.0 C502.5,365.0 497.5,366.4 492.5,367.5 C487.5,368.6 482.5,369.6 477.5,369.7 C472.5,369.8 467.5,368.9 462.5,368.0 C457.5,367.1 452.2,365.8 447.5,364.5 C442.8,363.2 437.2,362.4 434.0,360.0 C430.8,357.6 429.0,353.5 428.0,350.0 C427.0,346.5 426.8,342.6 428.0,339.0 C429.2,335.4 433.2,331.5 435.5,328.5 C437.8,325.5 440.5,323.2 441.5,321.0 C442.5,318.8 442.2,317.0 441.5,315.0 C440.8,313.0 438.5,311.0 437.0,309.0 C435.5,307.0 434.0,306.2 432.5,303.0 C431.0,299.8 429.4,299.3 428.0,290.0 C426.6,280.7 422.7,256.3 424.0,247.0Z" fill="#f2d0c6"/>
<g clip-path="url(#cbclip)">
<circle cx="430.3" cy="251.4" r="3.4" fill="#e3ab9b"/>
<circle cx="434.7" cy="252.3" r="4.0" fill="#e3ab9b"/>
<circle cx="431.5" cy="246.1" r="4.1" fill="#e3ab9b"/>
<circle cx="435.8" cy="247.0" r="3.6" fill="#e3ab9b"/>
<circle cx="432.6" cy="240.8" r="3.5" fill="#e3ab9b"/>
<circle cx="437.0" cy="241.8" r="3.5" fill="#e3ab9b"/>
<circle cx="433.8" cy="235.5" r="3.6" fill="#e3ab9b"/>
<circle cx="438.2" cy="236.5" r="4.1" fill="#e3ab9b"/>
<circle cx="436.0" cy="236.0" r="4.2" fill="#e3ab9b"/>
<circle cx="441.3" cy="261.2" r="3.4" fill="#e3ab9b"/>
<circle cx="445.7" cy="261.8" r="4.0" fill="#e3ab9b"/>
<circle cx="441.8" cy="257.0" r="4.1" fill="#e3ab9b"/>
<circle cx="446.3" cy="257.6" r="3.6" fill="#e3ab9b"/>
<circle cx="442.4" cy="252.7" r="3.5" fill="#e3ab9b"/>
<circle cx="446.9" cy="253.3" r="3.5" fill="#e3ab9b"/>
<circle cx="443.0" cy="248.5" r="3.6" fill="#e3ab9b"/>
<circle cx="447.5" cy="249.1" r="4.1" fill="#e3ab9b"/>
<circle cx="443.6" cy="244.2" r="4.0" fill="#e3ab9b"/>
<circle cx="448.1" cy="244.8" r="3.4" fill="#e3ab9b"/>
<circle cx="444.2" cy="239.9" r="3.4" fill="#e3ab9b"/>
<circle cx="448.6" cy="240.6" r="3.7" fill="#e3ab9b"/>
<circle cx="444.8" cy="235.7" r="3.8" fill="#e3ab9b"/>
<circle cx="449.2" cy="236.3" r="4.0" fill="#e3ab9b"/>
<circle cx="447.0" cy="236.0" r="4.2" fill="#e3ab9b"/>
<circle cx="453.2" cy="269.7" r="3.4" fill="#e3ab9b"/>
<circle cx="457.7" cy="270.2" r="4.0" fill="#e3ab9b"/>
<circle cx="453.7" cy="265.4" r="4.1" fill="#e3ab9b"/>
<circle cx="458.2" cy="265.9" r="3.6" fill="#e3ab9b"/>
<circle cx="454.3" cy="261.1" r="3.5" fill="#e3ab9b"/>
<circle cx="458.7" cy="261.6" r="3.5" fill="#e3ab9b"/>
<circle cx="454.8" cy="256.8" r="3.6" fill="#e3ab9b"/>
<circle cx="459.2" cy="257.4" r="4.1" fill="#e3ab9b"/>
<circle cx="455.3" cy="252.6" r="4.0" fill="#e3ab9b"/>
<circle cx="459.7" cy="253.1" r="3.4" fill="#e3ab9b"/>
<circle cx="455.8" cy="248.3" r="3.4" fill="#e3ab9b"/>
<circle cx="460.2" cy="248.8" r="3.7" fill="#e3ab9b"/>
<circle cx="456.3" cy="244.0" r="3.8" fill="#e3ab9b"/>
<circle cx="460.7" cy="244.5" r="4.0" fill="#e3ab9b"/>
<circle cx="456.8" cy="239.7" r="3.9" fill="#e3ab9b"/>
<circle cx="461.2" cy="240.3" r="3.3" fill="#e3ab9b"/>
<circle cx="459.0" cy="240.0" r="4.2" fill="#e3ab9b"/>
<circle cx="465.4" cy="276.7" r="3.4" fill="#e3ab9b"/>
<circle cx="469.8" cy="277.4" r="4.0" fill="#e3ab9b"/>
<circle cx="466.0" cy="272.6" r="4.1" fill="#e3ab9b"/>
<circle cx="470.5" cy="273.2" r="3.6" fill="#e3ab9b"/>
<circle cx="466.6" cy="268.4" r="3.5" fill="#e3ab9b"/>
<circle cx="471.1" cy="269.1" r="3.5" fill="#e3ab9b"/>
<circle cx="467.3" cy="264.3" r="3.6" fill="#e3ab9b"/>
<circle cx="471.7" cy="264.9" r="4.1" fill="#e3ab9b"/>
<circle cx="467.9" cy="260.1" r="4.0" fill="#e3ab9b"/>
<circle cx="472.3" cy="260.8" r="3.4" fill="#e3ab9b"/>
<circle cx="468.5" cy="256.0" r="3.4" fill="#e3ab9b"/>
<circle cx="473.0" cy="256.6" r="3.7" fill="#e3ab9b"/>
<circle cx="469.1" cy="251.8" r="3.8" fill="#e3ab9b"/>
<circle cx="473.6" cy="252.5" r="4.0" fill="#e3ab9b"/>
<circle cx="469.8" cy="247.7" r="3.9" fill="#e3ab9b"/>
<circle cx="474.2" cy="248.3" r="3.3" fill="#e3ab9b"/>
<circle cx="472.0" cy="248.0" r="4.2" fill="#e3ab9b"/>
<circle cx="475.8" cy="286.4" r="3.4" fill="#e3ab9b"/>
<circle cx="480.2" cy="287.4" r="4.0" fill="#e3ab9b"/>
<circle cx="476.8" cy="282.1" r="4.1" fill="#e3ab9b"/>
<circle cx="481.2" cy="283.2" r="3.6" fill="#e3ab9b"/>
<circle cx="477.8" cy="277.9" r="3.5" fill="#e3ab9b"/>
<circle cx="482.2" cy="278.9" r="3.5" fill="#e3ab9b"/>
<circle cx="478.8" cy="273.6" r="3.6" fill="#e3ab9b"/>
<circle cx="483.2" cy="274.6" r="4.1" fill="#e3ab9b"/>
<circle cx="479.8" cy="269.3" r="4.0" fill="#e3ab9b"/>
<circle cx="484.2" cy="270.3" r="3.4" fill="#e3ab9b"/>
<circle cx="480.8" cy="265.0" r="3.4" fill="#e3ab9b"/>
<circle cx="485.2" cy="266.1" r="3.7" fill="#e3ab9b"/>
<circle cx="481.8" cy="260.8" r="3.8" fill="#e3ab9b"/>
<circle cx="486.2" cy="261.8" r="4.0" fill="#e3ab9b"/>
<circle cx="482.8" cy="256.5" r="3.9" fill="#e3ab9b"/>
<circle cx="487.2" cy="257.5" r="3.3" fill="#e3ab9b"/>
<circle cx="485.0" cy="257.0" r="4.2" fill="#e3ab9b"/>
<circle cx="486.2" cy="293.2" r="3.4" fill="#e3ab9b"/>
<circle cx="490.5" cy="294.6" r="4.0" fill="#e3ab9b"/>
<circle cx="487.6" cy="289.0" r="4.1" fill="#e3ab9b"/>
<circle cx="491.8" cy="290.3" r="3.6" fill="#e3ab9b"/>
<circle cx="488.9" cy="284.7" r="3.5" fill="#e3ab9b"/>
<circle cx="493.2" cy="286.1" r="3.5" fill="#e3ab9b"/>
<circle cx="490.3" cy="280.4" r="3.6" fill="#e3ab9b"/>
<circle cx="494.6" cy="281.8" r="4.1" fill="#e3ab9b"/>
<circle cx="491.7" cy="276.1" r="4.0" fill="#e3ab9b"/>
<circle cx="496.0" cy="277.5" r="3.4" fill="#e3ab9b"/>
<circle cx="493.1" cy="271.9" r="3.4" fill="#e3ab9b"/>
<circle cx="497.4" cy="273.2" r="3.7" fill="#e3ab9b"/>
<circle cx="494.5" cy="267.6" r="3.8" fill="#e3ab9b"/>
<circle cx="498.8" cy="269.0" r="4.0" fill="#e3ab9b"/>
<circle cx="495.9" cy="263.3" r="3.9" fill="#e3ab9b"/>
<circle cx="500.1" cy="264.7" r="3.3" fill="#e3ab9b"/>
<circle cx="498.0" cy="264.0" r="4.2" fill="#e3ab9b"/>
<circle cx="495.4" cy="298.1" r="3.4" fill="#e3ab9b"/>
<circle cx="499.2" cy="300.5" r="4.0" fill="#e3ab9b"/>
<circle cx="497.8" cy="294.2" r="4.1" fill="#e3ab9b"/>
<circle cx="501.6" cy="296.6" r="3.6" fill="#e3ab9b"/>
<circle cx="500.1" cy="290.3" r="3.5" fill="#e3ab9b"/>
<circle cx="504.0" cy="292.7" r="3.5" fill="#e3ab9b"/>
<circle cx="502.5" cy="286.4" r="3.6" fill="#e3ab9b"/>
<circle cx="506.4" cy="288.8" r="4.1" fill="#e3ab9b"/>
<circle cx="504.9" cy="282.5" r="4.0" fill="#e3ab9b"/>
<circle cx="508.8" cy="284.9" r="3.4" fill="#e3ab9b"/>
<circle cx="507.3" cy="278.6" r="3.4" fill="#e3ab9b"/>
<circle cx="511.1" cy="281.0" r="3.7" fill="#e3ab9b"/>
<circle cx="509.7" cy="274.7" r="3.8" fill="#e3ab9b"/>
<circle cx="513.5" cy="277.1" r="4.0" fill="#e3ab9b"/>
<circle cx="512.1" cy="270.8" r="3.9" fill="#e3ab9b"/>
<circle cx="515.9" cy="273.2" r="3.3" fill="#e3ab9b"/>
<circle cx="514.0" cy="272.0" r="4.2" fill="#e3ab9b"/>
<circle cx="501.5" cy="301.2" r="3.4" fill="#e3ab9b"/>
<circle cx="504.2" cy="304.8" r="4.0" fill="#e3ab9b"/>
<circle cx="505.0" cy="298.5" r="4.1" fill="#e3ab9b"/>
<circle cx="507.7" cy="302.0" r="3.6" fill="#e3ab9b"/>
<circle cx="508.5" cy="295.7" r="3.5" fill="#e3ab9b"/>
<circle cx="511.3" cy="299.3" r="3.5" fill="#e3ab9b"/>
<circle cx="512.0" cy="293.0" r="3.6" fill="#e3ab9b"/>
<circle cx="514.8" cy="296.5" r="4.1" fill="#e3ab9b"/>
<circle cx="515.5" cy="290.2" r="4.0" fill="#e3ab9b"/>
<circle cx="518.3" cy="293.8" r="3.4" fill="#e3ab9b"/>
<circle cx="519.1" cy="287.5" r="3.4" fill="#e3ab9b"/>
<circle cx="521.8" cy="291.0" r="3.7" fill="#e3ab9b"/>
<circle cx="522.6" cy="284.7" r="3.8" fill="#e3ab9b"/>
<circle cx="525.3" cy="288.3" r="4.0" fill="#e3ab9b"/>
<circle cx="526.1" cy="282.0" r="3.9" fill="#e3ab9b"/>
<circle cx="528.9" cy="285.5" r="3.3" fill="#e3ab9b"/>
<circle cx="529.6" cy="279.2" r="3.3" fill="#e3ab9b"/>
<circle cx="532.4" cy="282.8" r="3.9" fill="#e3ab9b"/>
<circle cx="531.0" cy="281.0" r="4.2" fill="#e3ab9b"/>
<circle cx="505.0" cy="304.1" r="3.4" fill="#e3ab9b"/>
<circle cx="506.3" cy="308.3" r="4.0" fill="#e3ab9b"/>
<circle cx="509.1" cy="302.7" r="4.1" fill="#e3ab9b"/>
<circle cx="510.5" cy="307.0" r="3.6" fill="#e3ab9b"/>
<circle cx="513.2" cy="301.4" r="3.5" fill="#e3ab9b"/>
<circle cx="514.6" cy="305.7" r="3.5" fill="#e3ab9b"/>
<circle cx="517.4" cy="300.1" r="3.6" fill="#e3ab9b"/>
<circle cx="518.7" cy="304.4" r="4.1" fill="#e3ab9b"/>
<circle cx="521.5" cy="298.8" r="4.0" fill="#e3ab9b"/>
<circle cx="522.9" cy="303.1" r="3.4" fill="#e3ab9b"/>
<circle cx="525.6" cy="297.5" r="3.4" fill="#e3ab9b"/>
<circle cx="527.0" cy="301.7" r="3.7" fill="#e3ab9b"/>
<circle cx="529.8" cy="296.1" r="3.8" fill="#e3ab9b"/>
<circle cx="531.1" cy="300.4" r="4.0" fill="#e3ab9b"/>
<circle cx="533.9" cy="294.8" r="3.9" fill="#e3ab9b"/>
<circle cx="535.3" cy="299.1" r="3.3" fill="#e3ab9b"/>
<circle cx="538.0" cy="293.5" r="3.3" fill="#e3ab9b"/>
<circle cx="539.4" cy="297.8" r="3.9" fill="#e3ab9b"/>
<circle cx="542.2" cy="292.2" r="4.0" fill="#e3ab9b"/>
<circle cx="543.5" cy="296.5" r="3.8" fill="#e3ab9b"/>
<circle cx="546.3" cy="290.9" r="3.7" fill="#e3ab9b"/>
<circle cx="547.7" cy="295.1" r="3.4" fill="#e3ab9b"/>
<circle cx="547.0" cy="293.0" r="4.2" fill="#e3ab9b"/>
<circle cx="506.1" cy="308.6" r="3.4" fill="#e3ab9b"/>
<circle cx="506.2" cy="313.1" r="4.0" fill="#e3ab9b"/>
<circle cx="510.6" cy="308.5" r="4.1" fill="#e3ab9b"/>
<circle cx="510.7" cy="313.0" r="3.6" fill="#e3ab9b"/>
<circle cx="515.1" cy="308.5" r="3.5" fill="#e3ab9b"/>
<circle cx="515.1" cy="313.0" r="3.5" fill="#e3ab9b"/>
<circle cx="519.5" cy="308.4" r="3.6" fill="#e3ab9b"/>
<circle cx="519.6" cy="312.9" r="4.1" fill="#e3ab9b"/>
<circle cx="524.0" cy="308.3" r="4.0" fill="#e3ab9b"/>
<circle cx="524.1" cy="312.8" r="3.4" fill="#e3ab9b"/>
<circle cx="528.5" cy="308.2" r="3.4" fill="#e3ab9b"/>
<circle cx="528.6" cy="312.7" r="3.7" fill="#e3ab9b"/>
<circle cx="533.0" cy="308.1" r="3.8" fill="#e3ab9b"/>
<circle cx="533.1" cy="312.6" r="4.0" fill="#e3ab9b"/>
<circle cx="537.5" cy="308.0" r="3.9" fill="#e3ab9b"/>
<circle cx="537.6" cy="312.5" r="3.3" fill="#e3ab9b"/>
<circle cx="542.0" cy="307.9" r="3.3" fill="#e3ab9b"/>
<circle cx="542.1" cy="312.4" r="3.9" fill="#e3ab9b"/>
<circle cx="546.5" cy="307.8" r="4.0" fill="#e3ab9b"/>
<circle cx="546.6" cy="312.3" r="3.8" fill="#e3ab9b"/>
<circle cx="551.0" cy="307.8" r="3.7" fill="#e3ab9b"/>
<circle cx="551.0" cy="312.2" r="3.4" fill="#e3ab9b"/>
<circle cx="551.0" cy="310.0" r="4.2" fill="#e3ab9b"/>
<circle cx="504.4" cy="313.5" r="3.4" fill="#e3ab9b"/>
<circle cx="503.1" cy="317.8" r="4.0" fill="#e3ab9b"/>
<circle cx="508.6" cy="314.8" r="4.1" fill="#e3ab9b"/>
<circle cx="507.4" cy="319.1" r="3.6" fill="#e3ab9b"/>
<circle cx="512.8" cy="316.0" r="3.5" fill="#e3ab9b"/>
<circle cx="511.6" cy="320.3" r="3.5" fill="#e3ab9b"/>
<circle cx="517.1" cy="317.2" r="3.6" fill="#e3ab9b"/>
<circle cx="515.8" cy="321.5" r="4.1" fill="#e3ab9b"/>
<circle cx="521.3" cy="318.4" r="4.0" fill="#e3ab9b"/>
<circle cx="520.0" cy="322.8" r="3.4" fill="#e3ab9b"/>
<circle cx="525.5" cy="319.7" r="3.4" fill="#e3ab9b"/>
<circle cx="524.2" cy="324.0" r="3.7" fill="#e3ab9b"/>
<circle cx="529.7" cy="320.9" r="3.8" fill="#e3ab9b"/>
<circle cx="528.5" cy="325.2" r="4.0" fill="#e3ab9b"/>
<circle cx="534.0" cy="322.1" r="3.9" fill="#e3ab9b"/>
<circle cx="532.7" cy="326.5" r="3.3" fill="#e3ab9b"/>
<circle cx="538.2" cy="323.4" r="3.3" fill="#e3ab9b"/>
<circle cx="536.9" cy="327.7" r="3.9" fill="#e3ab9b"/>
<circle cx="542.4" cy="324.6" r="4.0" fill="#e3ab9b"/>
<circle cx="541.1" cy="328.9" r="3.8" fill="#e3ab9b"/>
<circle cx="546.6" cy="325.8" r="3.7" fill="#e3ab9b"/>
<circle cx="545.4" cy="330.2" r="3.4" fill="#e3ab9b"/>
<circle cx="546.0" cy="328.0" r="4.2" fill="#e3ab9b"/>
<circle cx="447.1" cy="323.7" r="3.4" fill="#e3ab9b"/>
<circle cx="442.7" cy="322.8" r="4.0" fill="#e3ab9b"/>
<circle cx="446.2" cy="328.0" r="4.1" fill="#e3ab9b"/>
<circle cx="441.8" cy="327.1" r="3.6" fill="#e3ab9b"/>
<circle cx="445.4" cy="332.3" r="3.5" fill="#e3ab9b"/>
<circle cx="441.0" cy="331.4" r="3.5" fill="#e3ab9b"/>
<circle cx="444.5" cy="336.6" r="3.6" fill="#e3ab9b"/>
<circle cx="440.1" cy="335.7" r="4.1" fill="#e3ab9b"/>
<circle cx="443.6" cy="340.9" r="4.0" fill="#e3ab9b"/>
<circle cx="439.2" cy="340.0" r="3.4" fill="#e3ab9b"/>
<circle cx="442.7" cy="345.2" r="3.4" fill="#e3ab9b"/>
<circle cx="438.3" cy="344.3" r="3.7" fill="#e3ab9b"/>
<circle cx="441.8" cy="349.5" r="3.8" fill="#e3ab9b"/>
<circle cx="437.4" cy="348.6" r="4.0" fill="#e3ab9b"/>
<circle cx="441.0" cy="353.8" r="3.9" fill="#e3ab9b"/>
<circle cx="436.6" cy="352.9" r="3.3" fill="#e3ab9b"/>
<circle cx="440.1" cy="358.1" r="3.3" fill="#e3ab9b"/>
<circle cx="435.7" cy="357.2" r="3.9" fill="#e3ab9b"/>
<circle cx="439.2" cy="362.5" r="4.0" fill="#e3ab9b"/>
<circle cx="434.8" cy="361.5" r="3.8" fill="#e3ab9b"/>
<circle cx="437.0" cy="362.0" r="4.2" fill="#e3ab9b"/>
<circle cx="458.6" cy="323.3" r="3.4" fill="#e3ab9b"/>
<circle cx="454.2" cy="322.9" r="4.0" fill="#e3ab9b"/>
<circle cx="458.2" cy="327.8" r="4.1" fill="#e3ab9b"/>
<circle cx="453.7" cy="327.4" r="3.6" fill="#e3ab9b"/>
<circle cx="457.8" cy="332.3" r="3.5" fill="#e3ab9b"/>
<circle cx="453.3" cy="331.9" r="3.5" fill="#e3ab9b"/>
<circle cx="457.3" cy="336.8" r="3.6" fill="#e3ab9b"/>
<circle cx="452.8" cy="336.4" r="4.1" fill="#e3ab9b"/>
<circle cx="456.9" cy="341.3" r="4.0" fill="#e3ab9b"/>
<circle cx="452.4" cy="340.9" r="3.4" fill="#e3ab9b"/>
<circle cx="456.4" cy="345.8" r="3.4" fill="#e3ab9b"/>
<circle cx="452.0" cy="345.3" r="3.7" fill="#e3ab9b"/>
<circle cx="456.0" cy="350.3" r="3.8" fill="#e3ab9b"/>
<circle cx="451.5" cy="349.8" r="4.0" fill="#e3ab9b"/>
<circle cx="455.6" cy="354.8" r="3.9" fill="#e3ab9b"/>
<circle cx="451.1" cy="354.3" r="3.3" fill="#e3ab9b"/>
<circle cx="455.1" cy="359.2" r="3.3" fill="#e3ab9b"/>
<circle cx="450.6" cy="358.8" r="3.9" fill="#e3ab9b"/>
<circle cx="454.7" cy="363.7" r="4.0" fill="#e3ab9b"/>
<circle cx="450.2" cy="363.3" r="3.8" fill="#e3ab9b"/>
<circle cx="454.2" cy="368.2" r="3.7" fill="#e3ab9b"/>
<circle cx="449.8" cy="367.8" r="3.4" fill="#e3ab9b"/>
<circle cx="452.0" cy="368.0" r="4.2" fill="#e3ab9b"/>
<circle cx="470.1" cy="322.8" r="3.4" fill="#e3ab9b"/>
<circle cx="465.6" cy="322.7" r="4.0" fill="#e3ab9b"/>
<circle cx="470.0" cy="327.2" r="4.1" fill="#e3ab9b"/>
<circle cx="465.6" cy="327.2" r="3.6" fill="#e3ab9b"/>
<circle cx="470.0" cy="331.7" r="3.5" fill="#e3ab9b"/>
<circle cx="465.5" cy="331.6" r="3.5" fill="#e3ab9b"/>
<circle cx="469.9" cy="336.2" r="3.6" fill="#e3ab9b"/>
<circle cx="465.4" cy="336.1" r="4.1" fill="#e3ab9b"/>
<circle cx="469.8" cy="340.7" r="4.0" fill="#e3ab9b"/>
<circle cx="465.3" cy="340.6" r="3.4" fill="#e3ab9b"/>
<circle cx="469.7" cy="345.2" r="3.4" fill="#e3ab9b"/>
<circle cx="465.2" cy="345.1" r="3.7" fill="#e3ab9b"/>
<circle cx="469.6" cy="349.6" r="3.8" fill="#e3ab9b"/>
<circle cx="465.2" cy="349.6" r="4.0" fill="#e3ab9b"/>
<circle cx="469.6" cy="354.1" r="3.9" fill="#e3ab9b"/>
<circle cx="465.1" cy="354.0" r="3.3" fill="#e3ab9b"/>
<circle cx="469.5" cy="358.6" r="3.3" fill="#e3ab9b"/>
<circle cx="465.0" cy="358.5" r="3.9" fill="#e3ab9b"/>
<circle cx="469.4" cy="363.1" r="4.0" fill="#e3ab9b"/>
<circle cx="464.9" cy="363.0" r="3.8" fill="#e3ab9b"/>
<circle cx="469.3" cy="367.6" r="3.7" fill="#e3ab9b"/>
<circle cx="464.8" cy="367.5" r="3.4" fill="#e3ab9b"/>
<circle cx="469.2" cy="372.0" r="3.4" fill="#e3ab9b"/>
<circle cx="464.8" cy="372.0" r="4.0" fill="#e3ab9b"/>
<circle cx="467.0" cy="372.0" r="4.2" fill="#e3ab9b"/>
<circle cx="481.6" cy="323.5" r="3.4" fill="#e3ab9b"/>
<circle cx="477.1" cy="323.7" r="4.0" fill="#e3ab9b"/>
<circle cx="481.8" cy="327.9" r="4.1" fill="#e3ab9b"/>
<circle cx="477.4" cy="328.1" r="3.6" fill="#e3ab9b"/>
<circle cx="482.1" cy="332.3" r="3.5" fill="#e3ab9b"/>
<circle cx="477.6" cy="332.5" r="3.5" fill="#e3ab9b"/>
<circle cx="482.3" cy="336.7" r="3.6" fill="#e3ab9b"/>
<circle cx="477.8" cy="336.9" r="4.1" fill="#e3ab9b"/>
<circle cx="482.6" cy="341.1" r="4.0" fill="#e3ab9b"/>
<circle cx="478.1" cy="341.3" r="3.4" fill="#e3ab9b"/>
<circle cx="482.8" cy="345.5" r="3.4" fill="#e3ab9b"/>
<circle cx="478.3" cy="345.7" r="3.7" fill="#e3ab9b"/>
<circle cx="483.0" cy="349.9" r="3.8" fill="#e3ab9b"/>
<circle cx="478.6" cy="350.1" r="4.0" fill="#e3ab9b"/>
<circle cx="483.3" cy="354.3" r="3.9" fill="#e3ab9b"/>
<circle cx="478.8" cy="354.5" r="3.3" fill="#e3ab9b"/>
<circle cx="483.5" cy="358.7" r="3.3" fill="#e3ab9b"/>
<circle cx="479.0" cy="358.9" r="3.9" fill="#e3ab9b"/>
<circle cx="483.8" cy="363.1" r="4.0" fill="#e3ab9b"/>
<circle cx="479.3" cy="363.3" r="3.8" fill="#e3ab9b"/>
<circle cx="484.0" cy="367.5" r="3.7" fill="#e3ab9b"/>
<circle cx="479.5" cy="367.7" r="3.4" fill="#e3ab9b"/>
<circle cx="484.2" cy="371.9" r="3.4" fill="#e3ab9b"/>
<circle cx="479.8" cy="372.1" r="4.0" fill="#e3ab9b"/>
<circle cx="482.0" cy="372.0" r="4.2" fill="#e3ab9b"/>
<circle cx="493.1" cy="322.1" r="3.4" fill="#e3ab9b"/>
<circle cx="488.6" cy="322.7" r="4.0" fill="#e3ab9b"/>
<circle cx="493.6" cy="326.3" r="4.1" fill="#e3ab9b"/>
<circle cx="489.2" cy="326.9" r="3.6" fill="#e3ab9b"/>
<circle cx="494.2" cy="330.5" r="3.5" fill="#e3ab9b"/>
<circle cx="489.7" cy="331.1" r="3.5" fill="#e3ab9b"/>
<circle cx="494.8" cy="334.8" r="3.6" fill="#e3ab9b"/>
<circle cx="490.3" cy="335.4" r="4.1" fill="#e3ab9b"/>
<circle cx="495.3" cy="339.0" r="4.0" fill="#e3ab9b"/>
<circle cx="490.8" cy="339.6" r="3.4" fill="#e3ab9b"/>
<circle cx="495.9" cy="343.3" r="3.4" fill="#e3ab9b"/>
<circle cx="491.4" cy="343.9" r="3.7" fill="#e3ab9b"/>
<circle cx="496.4" cy="347.5" r="3.8" fill="#e3ab9b"/>
<circle cx="492.0" cy="348.1" r="4.0" fill="#e3ab9b"/>
<circle cx="497.0" cy="351.7" r="3.9" fill="#e3ab9b"/>
<circle cx="492.5" cy="352.3" r="3.3" fill="#e3ab9b"/>
<circle cx="497.6" cy="356.0" r="3.3" fill="#e3ab9b"/>
<circle cx="493.1" cy="356.6" r="3.9" fill="#e3ab9b"/>
<circle cx="498.1" cy="360.2" r="4.0" fill="#e3ab9b"/>
<circle cx="493.6" cy="360.8" r="3.8" fill="#e3ab9b"/>
<circle cx="498.7" cy="364.5" r="3.7" fill="#e3ab9b"/>
<circle cx="494.2" cy="365.1" r="3.4" fill="#e3ab9b"/>
<circle cx="499.2" cy="368.7" r="3.4" fill="#e3ab9b"/>
<circle cx="494.8" cy="369.3" r="4.0" fill="#e3ab9b"/>
<circle cx="497.0" cy="369.0" r="4.2" fill="#e3ab9b"/>
<circle cx="500.9" cy="321.0" r="3.4" fill="#e3ab9b"/>
<circle cx="496.7" cy="322.3" r="4.0" fill="#e3ab9b"/>
<circle cx="502.3" cy="325.1" r="4.1" fill="#e3ab9b"/>
<circle cx="498.0" cy="326.5" r="3.6" fill="#e3ab9b"/>
<circle cx="503.6" cy="329.2" r="3.5" fill="#e3ab9b"/>
<circle cx="499.3" cy="330.6" r="3.5" fill="#e3ab9b"/>
<circle cx="504.9" cy="333.4" r="3.6" fill="#e3ab9b"/>
<circle cx="500.6" cy="334.7" r="4.1" fill="#e3ab9b"/>
<circle cx="506.2" cy="337.5" r="4.0" fill="#e3ab9b"/>
<circle cx="501.9" cy="338.9" r="3.4" fill="#e3ab9b"/>
<circle cx="507.5" cy="341.6" r="3.4" fill="#e3ab9b"/>
<circle cx="503.3" cy="343.0" r="3.7" fill="#e3ab9b"/>
<circle cx="508.9" cy="345.8" r="3.8" fill="#e3ab9b"/>
<circle cx="504.6" cy="347.1" r="4.0" fill="#e3ab9b"/>
<circle cx="510.2" cy="349.9" r="3.9" fill="#e3ab9b"/>
<circle cx="505.9" cy="351.3" r="3.3" fill="#e3ab9b"/>
<circle cx="511.5" cy="354.0" r="3.3" fill="#e3ab9b"/>
<circle cx="507.2" cy="355.4" r="3.9" fill="#e3ab9b"/>
<circle cx="512.8" cy="358.2" r="4.0" fill="#e3ab9b"/>
<circle cx="508.5" cy="359.5" r="3.8" fill="#e3ab9b"/>
<circle cx="514.1" cy="362.3" r="3.7" fill="#e3ab9b"/>
<circle cx="509.9" cy="363.7" r="3.4" fill="#e3ab9b"/>
<circle cx="512.0" cy="363.0" r="4.2" fill="#e3ab9b"/>
<circle cx="504.1" cy="318.5" r="3.4" fill="#e3ab9b"/>
<circle cx="500.4" cy="321.1" r="4.0" fill="#e3ab9b"/>
<circle cx="506.5" cy="322.1" r="4.1" fill="#e3ab9b"/>
<circle cx="502.8" cy="324.6" r="3.6" fill="#e3ab9b"/>
<circle cx="508.9" cy="325.6" r="3.5" fill="#e3ab9b"/>
<circle cx="505.1" cy="328.1" r="3.5" fill="#e3ab9b"/>
<circle cx="511.2" cy="329.1" r="3.6" fill="#e3ab9b"/>
<circle cx="507.5" cy="331.6" r="4.1" fill="#e3ab9b"/>
<circle cx="513.6" cy="332.6" r="4.0" fill="#e3ab9b"/>
<circle cx="509.9" cy="335.1" r="3.4" fill="#e3ab9b"/>
<circle cx="516.0" cy="336.1" r="3.4" fill="#e3ab9b"/>
<circle cx="512.3" cy="338.7" r="3.7" fill="#e3ab9b"/>
<circle cx="518.4" cy="339.7" r="3.8" fill="#e3ab9b"/>
<circle cx="514.6" cy="342.2" r="4.0" fill="#e3ab9b"/>
<circle cx="520.7" cy="343.2" r="3.9" fill="#e3ab9b"/>
<circle cx="517.0" cy="345.7" r="3.3" fill="#e3ab9b"/>
<circle cx="523.1" cy="346.7" r="3.3" fill="#e3ab9b"/>
<circle cx="519.4" cy="349.2" r="3.9" fill="#e3ab9b"/>
<circle cx="525.5" cy="350.2" r="4.0" fill="#e3ab9b"/>
<circle cx="521.8" cy="352.7" r="3.8" fill="#e3ab9b"/>
<circle cx="527.9" cy="353.7" r="3.7" fill="#e3ab9b"/>
<circle cx="524.1" cy="356.3" r="3.4" fill="#e3ab9b"/>
<circle cx="526.0" cy="355.0" r="4.2" fill="#e3ab9b"/>
<circle cx="506.0" cy="314.8" r="3.4" fill="#e3ab9b"/>
<circle cx="503.2" cy="318.4" r="4.0" fill="#e3ab9b"/>
<circle cx="509.3" cy="317.5" r="4.1" fill="#e3ab9b"/>
<circle cx="506.5" cy="321.0" r="3.6" fill="#e3ab9b"/>
<circle cx="512.6" cy="320.1" r="3.5" fill="#e3ab9b"/>
<circle cx="509.9" cy="323.6" r="3.5" fill="#e3ab9b"/>
<circle cx="516.0" cy="322.8" r="3.6" fill="#e3ab9b"/>
<circle cx="513.2" cy="326.3" r="4.1" fill="#e3ab9b"/>
<circle cx="519.3" cy="325.4" r="4.0" fill="#e3ab9b"/>
<circle cx="516.5" cy="328.9" r="3.4" fill="#e3ab9b"/>
<circle cx="522.7" cy="328.0" r="3.4" fill="#e3ab9b"/>
<circle cx="519.9" cy="331.6" r="3.7" fill="#e3ab9b"/>
<circle cx="526.0" cy="330.7" r="3.8" fill="#e3ab9b"/>
<circle cx="523.2" cy="334.2" r="4.0" fill="#e3ab9b"/>
<circle cx="529.4" cy="333.3" r="3.9" fill="#e3ab9b"/>
<circle cx="526.6" cy="336.8" r="3.3" fill="#e3ab9b"/>
<circle cx="532.7" cy="336.0" r="3.3" fill="#e3ab9b"/>
<circle cx="529.9" cy="339.5" r="3.9" fill="#e3ab9b"/>
<circle cx="536.1" cy="338.6" r="4.0" fill="#e3ab9b"/>
<circle cx="533.3" cy="342.1" r="3.8" fill="#e3ab9b"/>
<circle cx="539.4" cy="341.2" r="3.7" fill="#e3ab9b"/>
<circle cx="536.6" cy="344.8" r="3.4" fill="#e3ab9b"/>
<circle cx="538.0" cy="343.0" r="4.2" fill="#e3ab9b"/>
<circle cx="430.3" cy="251.4" r="2.7" fill="#eec3b5"/>
<circle cx="434.7" cy="252.3" r="3.3" fill="#eec3b5"/>
<circle cx="431.5" cy="246.1" r="3.4" fill="#eec3b5"/>
<circle cx="435.8" cy="247.0" r="2.9" fill="#eec3b5"/>
<circle cx="432.6" cy="240.8" r="2.8" fill="#eec3b5"/>
<circle cx="437.0" cy="241.8" r="2.8" fill="#eec3b5"/>
<circle cx="433.8" cy="235.5" r="2.9" fill="#eec3b5"/>
<circle cx="438.2" cy="236.5" r="3.4" fill="#eec3b5"/>
<circle cx="436.0" cy="236.0" r="3.5" fill="#eec3b5"/>
<circle cx="441.3" cy="261.2" r="2.7" fill="#eec3b5"/>
<circle cx="445.7" cy="261.8" r="3.3" fill="#eec3b5"/>
<circle cx="441.8" cy="257.0" r="3.4" fill="#eec3b5"/>
<circle cx="446.3" cy="257.6" r="2.9" fill="#eec3b5"/>
<circle cx="442.4" cy="252.7" r="2.8" fill="#eec3b5"/>
<circle cx="446.9" cy="253.3" r="2.8" fill="#eec3b5"/>
<circle cx="443.0" cy="248.5" r="2.9" fill="#eec3b5"/>
<circle cx="447.5" cy="249.1" r="3.4" fill="#eec3b5"/>
<circle cx="443.6" cy="244.2" r="3.3" fill="#eec3b5"/>
<circle cx="448.1" cy="244.8" r="2.7" fill="#eec3b5"/>
<circle cx="444.2" cy="239.9" r="2.7" fill="#eec3b5"/>
<circle cx="448.6" cy="240.6" r="3.0" fill="#eec3b5"/>
<circle cx="444.8" cy="235.7" r="3.1" fill="#eec3b5"/>
<circle cx="449.2" cy="236.3" r="3.3" fill="#eec3b5"/>
<circle cx="447.0" cy="236.0" r="3.5" fill="#eec3b5"/>
<circle cx="453.2" cy="269.7" r="2.7" fill="#eec3b5"/>
<circle cx="457.7" cy="270.2" r="3.3" fill="#eec3b5"/>
<circle cx="453.7" cy="265.4" r="3.4" fill="#eec3b5"/>
<circle cx="458.2" cy="265.9" r="2.9" fill="#eec3b5"/>
<circle cx="454.3" cy="261.1" r="2.8" fill="#eec3b5"/>
<circle cx="458.7" cy="261.6" r="2.8" fill="#eec3b5"/>
<circle cx="454.8" cy="256.8" r="2.9" fill="#eec3b5"/>
<circle cx="459.2" cy="257.4" r="3.4" fill="#eec3b5"/>
<circle cx="455.3" cy="252.6" r="3.3" fill="#eec3b5"/>
<circle cx="459.7" cy="253.1" r="2.7" fill="#eec3b5"/>
<circle cx="455.8" cy="248.3" r="2.7" fill="#eec3b5"/>
<circle cx="460.2" cy="248.8" r="3.0" fill="#eec3b5"/>
<circle cx="456.3" cy="244.0" r="3.1" fill="#eec3b5"/>
<circle cx="460.7" cy="244.5" r="3.3" fill="#eec3b5"/>
<circle cx="456.8" cy="239.7" r="3.2" fill="#eec3b5"/>
<circle cx="461.2" cy="240.3" r="2.6" fill="#eec3b5"/>
<circle cx="459.0" cy="240.0" r="3.5" fill="#eec3b5"/>
<circle cx="465.4" cy="276.7" r="2.7" fill="#eec3b5"/>
<circle cx="469.8" cy="277.4" r="3.3" fill="#eec3b5"/>
<circle cx="466.0" cy="272.6" r="3.4" fill="#eec3b5"/>
<circle cx="470.5" cy="273.2" r="2.9" fill="#eec3b5"/>
<circle cx="466.6" cy="268.4" r="2.8" fill="#eec3b5"/>
<circle cx="471.1" cy="269.1" r="2.8" fill="#eec3b5"/>
<circle cx="467.3" cy="264.3" r="2.9" fill="#eec3b5"/>
<circle cx="471.7" cy="264.9" r="3.4" fill="#eec3b5"/>
<circle cx="467.9" cy="260.1" r="3.3" fill="#eec3b5"/>
<circle cx="472.3" cy="260.8" r="2.7" fill="#eec3b5"/>
<circle cx="468.5" cy="256.0" r="2.7" fill="#eec3b5"/>
<circle cx="473.0" cy="256.6" r="3.0" fill="#eec3b5"/>
<circle cx="469.1" cy="251.8" r="3.1" fill="#eec3b5"/>
<circle cx="473.6" cy="252.5" r="3.3" fill="#eec3b5"/>
<circle cx="469.8" cy="247.7" r="3.2" fill="#eec3b5"/>
<circle cx="474.2" cy="248.3" r="2.6" fill="#eec3b5"/>
<circle cx="472.0" cy="248.0" r="3.5" fill="#eec3b5"/>
<circle cx="475.8" cy="286.4" r="2.7" fill="#eec3b5"/>
<circle cx="480.2" cy="287.4" r="3.3" fill="#eec3b5"/>
<circle cx="476.8" cy="282.1" r="3.4" fill="#eec3b5"/>
<circle cx="481.2" cy="283.2" r="2.9" fill="#eec3b5"/>
<circle cx="477.8" cy="277.9" r="2.8" fill="#eec3b5"/>
<circle cx="482.2" cy="278.9" r="2.8" fill="#eec3b5"/>
<circle cx="478.8" cy="273.6" r="2.9" fill="#eec3b5"/>
<circle cx="483.2" cy="274.6" r="3.4" fill="#eec3b5"/>
<circle cx="479.8" cy="269.3" r="3.3" fill="#eec3b5"/>
<circle cx="484.2" cy="270.3" r="2.7" fill="#eec3b5"/>
<circle cx="480.8" cy="265.0" r="2.7" fill="#eec3b5"/>
<circle cx="485.2" cy="266.1" r="3.0" fill="#eec3b5"/>
<circle cx="481.8" cy="260.8" r="3.1" fill="#eec3b5"/>
<circle cx="486.2" cy="261.8" r="3.3" fill="#eec3b5"/>
<circle cx="482.8" cy="256.5" r="3.2" fill="#eec3b5"/>
<circle cx="487.2" cy="257.5" r="2.6" fill="#eec3b5"/>
<circle cx="485.0" cy="257.0" r="3.5" fill="#eec3b5"/>
<circle cx="486.2" cy="293.2" r="2.7" fill="#eec3b5"/>
<circle cx="490.5" cy="294.6" r="3.3" fill="#eec3b5"/>
<circle cx="487.6" cy="289.0" r="3.4" fill="#eec3b5"/>
<circle cx="491.8" cy="290.3" r="2.9" fill="#eec3b5"/>
<circle cx="488.9" cy="284.7" r="2.8" fill="#eec3b5"/>
<circle cx="493.2" cy="286.1" r="2.8" fill="#eec3b5"/>
<circle cx="490.3" cy="280.4" r="2.9" fill="#eec3b5"/>
<circle cx="494.6" cy="281.8" r="3.4" fill="#eec3b5"/>
<circle cx="491.7" cy="276.1" r="3.3" fill="#eec3b5"/>
<circle cx="496.0" cy="277.5" r="2.7" fill="#eec3b5"/>
<circle cx="493.1" cy="271.9" r="2.7" fill="#eec3b5"/>
<circle cx="497.4" cy="273.2" r="3.0" fill="#eec3b5"/>
<circle cx="494.5" cy="267.6" r="3.1" fill="#eec3b5"/>
<circle cx="498.8" cy="269.0" r="3.3" fill="#eec3b5"/>
<circle cx="495.9" cy="263.3" r="3.2" fill="#eec3b5"/>
<circle cx="500.1" cy="264.7" r="2.6" fill="#eec3b5"/>
<circle cx="498.0" cy="264.0" r="3.5" fill="#eec3b5"/>
<circle cx="495.4" cy="298.1" r="2.7" fill="#eec3b5"/>
<circle cx="499.2" cy="300.5" r="3.3" fill="#eec3b5"/>
<circle cx="497.8" cy="294.2" r="3.4" fill="#eec3b5"/>
<circle cx="501.6" cy="296.6" r="2.9" fill="#eec3b5"/>
<circle cx="500.1" cy="290.3" r="2.8" fill="#eec3b5"/>
<circle cx="504.0" cy="292.7" r="2.8" fill="#eec3b5"/>
<circle cx="502.5" cy="286.4" r="2.9" fill="#eec3b5"/>
<circle cx="506.4" cy="288.8" r="3.4" fill="#eec3b5"/>
<circle cx="504.9" cy="282.5" r="3.3" fill="#eec3b5"/>
<circle cx="508.8" cy="284.9" r="2.7" fill="#eec3b5"/>
<circle cx="507.3" cy="278.6" r="2.7" fill="#eec3b5"/>
<circle cx="511.1" cy="281.0" r="3.0" fill="#eec3b5"/>
<circle cx="509.7" cy="274.7" r="3.1" fill="#eec3b5"/>
<circle cx="513.5" cy="277.1" r="3.3" fill="#eec3b5"/>
<circle cx="512.1" cy="270.8" r="3.2" fill="#eec3b5"/>
<circle cx="515.9" cy="273.2" r="2.6" fill="#eec3b5"/>
<circle cx="514.0" cy="272.0" r="3.5" fill="#eec3b5"/>
<circle cx="501.5" cy="301.2" r="2.7" fill="#eec3b5"/>
<circle cx="504.2" cy="304.8" r="3.3" fill="#eec3b5"/>
<circle cx="505.0" cy="298.5" r="3.4" fill="#eec3b5"/>
<circle cx="507.7" cy="302.0" r="2.9" fill="#eec3b5"/>
<circle cx="508.5" cy="295.7" r="2.8" fill="#eec3b5"/>
<circle cx="511.3" cy="299.3" r="2.8" fill="#eec3b5"/>
<circle cx="512.0" cy="293.0" r="2.9" fill="#eec3b5"/>
<circle cx="514.8" cy="296.5" r="3.4" fill="#eec3b5"/>
<circle cx="515.5" cy="290.2" r="3.3" fill="#eec3b5"/>
<circle cx="518.3" cy="293.8" r="2.7" fill="#eec3b5"/>
<circle cx="519.1" cy="287.5" r="2.7" fill="#eec3b5"/>
<circle cx="521.8" cy="291.0" r="3.0" fill="#eec3b5"/>
<circle cx="522.6" cy="284.7" r="3.1" fill="#eec3b5"/>
<circle cx="525.3" cy="288.3" r="3.3" fill="#eec3b5"/>
<circle cx="526.1" cy="282.0" r="3.2" fill="#eec3b5"/>
<circle cx="528.9" cy="285.5" r="2.6" fill="#eec3b5"/>
<circle cx="529.6" cy="279.2" r="2.6" fill="#eec3b5"/>
<circle cx="532.4" cy="282.8" r="3.2" fill="#eec3b5"/>
<circle cx="531.0" cy="281.0" r="3.5" fill="#eec3b5"/>
<circle cx="505.0" cy="304.1" r="2.7" fill="#eec3b5"/>
<circle cx="506.3" cy="308.3" r="3.3" fill="#eec3b5"/>
<circle cx="509.1" cy="302.7" r="3.4" fill="#eec3b5"/>
<circle cx="510.5" cy="307.0" r="2.9" fill="#eec3b5"/>
<circle cx="513.2" cy="301.4" r="2.8" fill="#eec3b5"/>
<circle cx="514.6" cy="305.7" r="2.8" fill="#eec3b5"/>
<circle cx="517.4" cy="300.1" r="2.9" fill="#eec3b5"/>
<circle cx="518.7" cy="304.4" r="3.4" fill="#eec3b5"/>
<circle cx="521.5" cy="298.8" r="3.3" fill="#eec3b5"/>
<circle cx="522.9" cy="303.1" r="2.7" fill="#eec3b5"/>
<circle cx="525.6" cy="297.5" r="2.7" fill="#eec3b5"/>
<circle cx="527.0" cy="301.7" r="3.0" fill="#eec3b5"/>
<circle cx="529.8" cy="296.1" r="3.1" fill="#eec3b5"/>
<circle cx="531.1" cy="300.4" r="3.3" fill="#eec3b5"/>
<circle cx="533.9" cy="294.8" r="3.2" fill="#eec3b5"/>
<circle cx="535.3" cy="299.1" r="2.6" fill="#eec3b5"/>
<circle cx="538.0" cy="293.5" r="2.6" fill="#eec3b5"/>
<circle cx="539.4" cy="297.8" r="3.2" fill="#eec3b5"/>
<circle cx="542.2" cy="292.2" r="3.3" fill="#eec3b5"/>
<circle cx="543.5" cy="296.5" r="3.1" fill="#eec3b5"/>
<circle cx="546.3" cy="290.9" r="3.0" fill="#eec3b5"/>
<circle cx="547.7" cy="295.1" r="2.7" fill="#eec3b5"/>
<circle cx="547.0" cy="293.0" r="3.5" fill="#eec3b5"/>
<circle cx="506.1" cy="308.6" r="2.7" fill="#eec3b5"/>
<circle cx="506.2" cy="313.1" r="3.3" fill="#eec3b5"/>
<circle cx="510.6" cy="308.5" r="3.4" fill="#eec3b5"/>
<circle cx="510.7" cy="313.0" r="2.9" fill="#eec3b5"/>
<circle cx="515.1" cy="308.5" r="2.8" fill="#eec3b5"/>
<circle cx="515.1" cy="313.0" r="2.8" fill="#eec3b5"/>
<circle cx="519.5" cy="308.4" r="2.9" fill="#eec3b5"/>
<circle cx="519.6" cy="312.9" r="3.4" fill="#eec3b5"/>
<circle cx="524.0" cy="308.3" r="3.3" fill="#eec3b5"/>
<circle cx="524.1" cy="312.8" r="2.7" fill="#eec3b5"/>
<circle cx="528.5" cy="308.2" r="2.7" fill="#eec3b5"/>
<circle cx="528.6" cy="312.7" r="3.0" fill="#eec3b5"/>
<circle cx="533.0" cy="308.1" r="3.1" fill="#eec3b5"/>
<circle cx="533.1" cy="312.6" r="3.3" fill="#eec3b5"/>
<circle cx="537.5" cy="308.0" r="3.2" fill="#eec3b5"/>
<circle cx="537.6" cy="312.5" r="2.6" fill="#eec3b5"/>
<circle cx="542.0" cy="307.9" r="2.6" fill="#eec3b5"/>
<circle cx="542.1" cy="312.4" r="3.2" fill="#eec3b5"/>
<circle cx="546.5" cy="307.8" r="3.3" fill="#eec3b5"/>
<circle cx="546.6" cy="312.3" r="3.1" fill="#eec3b5"/>
<circle cx="551.0" cy="307.8" r="3.0" fill="#eec3b5"/>
<circle cx="551.0" cy="312.2" r="2.7" fill="#eec3b5"/>
<circle cx="551.0" cy="310.0" r="3.5" fill="#eec3b5"/>
<circle cx="504.4" cy="313.5" r="2.7" fill="#eec3b5"/>
<circle cx="503.1" cy="317.8" r="3.3" fill="#eec3b5"/>
<circle cx="508.6" cy="314.8" r="3.4" fill="#eec3b5"/>
<circle cx="507.4" cy="319.1" r="2.9" fill="#eec3b5"/>
<circle cx="512.8" cy="316.0" r="2.8" fill="#eec3b5"/>
<circle cx="511.6" cy="320.3" r="2.8" fill="#eec3b5"/>
<circle cx="517.1" cy="317.2" r="2.9" fill="#eec3b5"/>
<circle cx="515.8" cy="321.5" r="3.4" fill="#eec3b5"/>
<circle cx="521.3" cy="318.4" r="3.3" fill="#eec3b5"/>
<circle cx="520.0" cy="322.8" r="2.7" fill="#eec3b5"/>
<circle cx="525.5" cy="319.7" r="2.7" fill="#eec3b5"/>
<circle cx="524.2" cy="324.0" r="3.0" fill="#eec3b5"/>
<circle cx="529.7" cy="320.9" r="3.1" fill="#eec3b5"/>
<circle cx="528.5" cy="325.2" r="3.3" fill="#eec3b5"/>
<circle cx="534.0" cy="322.1" r="3.2" fill="#eec3b5"/>
<circle cx="532.7" cy="326.5" r="2.6" fill="#eec3b5"/>
<circle cx="538.2" cy="323.4" r="2.6" fill="#eec3b5"/>
<circle cx="536.9" cy="327.7" r="3.2" fill="#eec3b5"/>
<circle cx="542.4" cy="324.6" r="3.3" fill="#eec3b5"/>
<circle cx="541.1" cy="328.9" r="3.1" fill="#eec3b5"/>
<circle cx="546.6" cy="325.8" r="3.0" fill="#eec3b5"/>
<circle cx="545.4" cy="330.2" r="2.7" fill="#eec3b5"/>
<circle cx="546.0" cy="328.0" r="3.5" fill="#eec3b5"/>
<circle cx="447.1" cy="323.7" r="2.7" fill="#eec3b5"/>
<circle cx="442.7" cy="322.8" r="3.3" fill="#eec3b5"/>
<circle cx="446.2" cy="328.0" r="3.4" fill="#eec3b5"/>
<circle cx="441.8" cy="327.1" r="2.9" fill="#eec3b5"/>
<circle cx="445.4" cy="332.3" r="2.8" fill="#eec3b5"/>
<circle cx="441.0" cy="331.4" r="2.8" fill="#eec3b5"/>
<circle cx="444.5" cy="336.6" r="2.9" fill="#eec3b5"/>
<circle cx="440.1" cy="335.7" r="3.4" fill="#eec3b5"/>
<circle cx="443.6" cy="340.9" r="3.3" fill="#eec3b5"/>
<circle cx="439.2" cy="340.0" r="2.7" fill="#eec3b5"/>
<circle cx="442.7" cy="345.2" r="2.7" fill="#eec3b5"/>
<circle cx="438.3" cy="344.3" r="3.0" fill="#eec3b5"/>
<circle cx="441.8" cy="349.5" r="3.1" fill="#eec3b5"/>
<circle cx="437.4" cy="348.6" r="3.3" fill="#eec3b5"/>
<circle cx="441.0" cy="353.8" r="3.2" fill="#eec3b5"/>
<circle cx="436.6" cy="352.9" r="2.6" fill="#eec3b5"/>
<circle cx="440.1" cy="358.1" r="2.6" fill="#eec3b5"/>
<circle cx="435.7" cy="357.2" r="3.2" fill="#eec3b5"/>
<circle cx="439.2" cy="362.5" r="3.3" fill="#eec3b5"/>
<circle cx="434.8" cy="361.5" r="3.1" fill="#eec3b5"/>
<circle cx="437.0" cy="362.0" r="3.5" fill="#eec3b5"/>
<circle cx="458.6" cy="323.3" r="2.7" fill="#eec3b5"/>
<circle cx="454.2" cy="322.9" r="3.3" fill="#eec3b5"/>
<circle cx="458.2" cy="327.8" r="3.4" fill="#eec3b5"/>
<circle cx="453.7" cy="327.4" r="2.9" fill="#eec3b5"/>
<circle cx="457.8" cy="332.3" r="2.8" fill="#eec3b5"/>
<circle cx="453.3" cy="331.9" r="2.8" fill="#eec3b5"/>
<circle cx="457.3" cy="336.8" r="2.9" fill="#eec3b5"/>
<circle cx="452.8" cy="336.4" r="3.4" fill="#eec3b5"/>
<circle cx="456.9" cy="341.3" r="3.3" fill="#eec3b5"/>
<circle cx="452.4" cy="340.9" r="2.7" fill="#eec3b5"/>
<circle cx="456.4" cy="345.8" r="2.7" fill="#eec3b5"/>
<circle cx="452.0" cy="345.3" r="3.0" fill="#eec3b5"/>
<circle cx="456.0" cy="350.3" r="3.1" fill="#eec3b5"/>
<circle cx="451.5" cy="349.8" r="3.3" fill="#eec3b5"/>
<circle cx="455.6" cy="354.8" r="3.2" fill="#eec3b5"/>
<circle cx="451.1" cy="354.3" r="2.6" fill="#eec3b5"/>
<circle cx="455.1" cy="359.2" r="2.6" fill="#eec3b5"/>
<circle cx="450.6" cy="358.8" r="3.2" fill="#eec3b5"/>
<circle cx="454.7" cy="363.7" r="3.3" fill="#eec3b5"/>
<circle cx="450.2" cy="363.3" r="3.1" fill="#eec3b5"/>
<circle cx="454.2" cy="368.2" r="3.0" fill="#eec3b5"/>
<circle cx="449.8" cy="367.8" r="2.7" fill="#eec3b5"/>
<circle cx="452.0" cy="368.0" r="3.5" fill="#eec3b5"/>
<circle cx="470.1" cy="322.8" r="2.7" fill="#eec3b5"/>
<circle cx="465.6" cy="322.7" r="3.3" fill="#eec3b5"/>
<circle cx="470.0" cy="327.2" r="3.4" fill="#eec3b5"/>
<circle cx="465.6" cy="327.2" r="2.9" fill="#eec3b5"/>
<circle cx="470.0" cy="331.7" r="2.8" fill="#eec3b5"/>
<circle cx="465.5" cy="331.6" r="2.8" fill="#eec3b5"/>
<circle cx="469.9" cy="336.2" r="2.9" fill="#eec3b5"/>
<circle cx="465.4" cy="336.1" r="3.4" fill="#eec3b5"/>
<circle cx="469.8" cy="340.7" r="3.3" fill="#eec3b5"/>
<circle cx="465.3" cy="340.6" r="2.7" fill="#eec3b5"/>
<circle cx="469.7" cy="345.2" r="2.7" fill="#eec3b5"/>
<circle cx="465.2" cy="345.1" r="3.0" fill="#eec3b5"/>
<circle cx="469.6" cy="349.6" r="3.1" fill="#eec3b5"/>
<circle cx="465.2" cy="349.6" r="3.3" fill="#eec3b5"/>
<circle cx="469.6" cy="354.1" r="3.2" fill="#eec3b5"/>
<circle cx="465.1" cy="354.0" r="2.6" fill="#eec3b5"/>
<circle cx="469.5" cy="358.6" r="2.6" fill="#eec3b5"/>
<circle cx="465.0" cy="358.5" r="3.2" fill="#eec3b5"/>
<circle cx="469.4" cy="363.1" r="3.3" fill="#eec3b5"/>
<circle cx="464.9" cy="363.0" r="3.1" fill="#eec3b5"/>
<circle cx="469.3" cy="367.6" r="3.0" fill="#eec3b5"/>
<circle cx="464.8" cy="367.5" r="2.7" fill="#eec3b5"/>
<circle cx="469.2" cy="372.0" r="2.7" fill="#eec3b5"/>
<circle cx="464.8" cy="372.0" r="3.3" fill="#eec3b5"/>
<circle cx="467.0" cy="372.0" r="3.5" fill="#eec3b5"/>
<circle cx="481.6" cy="323.5" r="2.7" fill="#eec3b5"/>
<circle cx="477.1" cy="323.7" r="3.3" fill="#eec3b5"/>
<circle cx="481.8" cy="327.9" r="3.4" fill="#eec3b5"/>
<circle cx="477.4" cy="328.1" r="2.9" fill="#eec3b5"/>
<circle cx="482.1" cy="332.3" r="2.8" fill="#eec3b5"/>
<circle cx="477.6" cy="332.5" r="2.8" fill="#eec3b5"/>
<circle cx="482.3" cy="336.7" r="2.9" fill="#eec3b5"/>
<circle cx="477.8" cy="336.9" r="3.4" fill="#eec3b5"/>
<circle cx="482.6" cy="341.1" r="3.3" fill="#eec3b5"/>
<circle cx="478.1" cy="341.3" r="2.7" fill="#eec3b5"/>
<circle cx="482.8" cy="345.5" r="2.7" fill="#eec3b5"/>
<circle cx="478.3" cy="345.7" r="3.0" fill="#eec3b5"/>
<circle cx="483.0" cy="349.9" r="3.1" fill="#eec3b5"/>
<circle cx="478.6" cy="350.1" r="3.3" fill="#eec3b5"/>
<circle cx="483.3" cy="354.3" r="3.2" fill="#eec3b5"/>
<circle cx="478.8" cy="354.5" r="2.6" fill="#eec3b5"/>
<circle cx="483.5" cy="358.7" r="2.6" fill="#eec3b5"/>
<circle cx="479.0" cy="358.9" r="3.2" fill="#eec3b5"/>
<circle cx="483.8" cy="363.1" r="3.3" fill="#eec3b5"/>
<circle cx="479.3" cy="363.3" r="3.1" fill="#eec3b5"/>
<circle cx="484.0" cy="367.5" r="3.0" fill="#eec3b5"/>
<circle cx="479.5" cy="367.7" r="2.7" fill="#eec3b5"/>
<circle cx="484.2" cy="371.9" r="2.7" fill="#eec3b5"/>
<circle cx="479.8" cy="372.1" r="3.3" fill="#eec3b5"/>
<circle cx="482.0" cy="372.0" r="3.5" fill="#eec3b5"/>
<circle cx="493.1" cy="322.1" r="2.7" fill="#eec3b5"/>
<circle cx="488.6" cy="322.7" r="3.3" fill="#eec3b5"/>
<circle cx="493.6" cy="326.3" r="3.4" fill="#eec3b5"/>
<circle cx="489.2" cy="326.9" r="2.9" fill="#eec3b5"/>
<circle cx="494.2" cy="330.5" r="2.8" fill="#eec3b5"/>
<circle cx="489.7" cy="331.1" r="2.8" fill="#eec3b5"/>
<circle cx="494.8" cy="334.8" r="2.9" fill="#eec3b5"/>
<circle cx="490.3" cy="335.4" r="3.4" fill="#eec3b5"/>
<circle cx="495.3" cy="339.0" r="3.3" fill="#eec3b5"/>
<circle cx="490.8" cy="339.6" r="2.7" fill="#eec3b5"/>
<circle cx="495.9" cy="343.3" r="2.7" fill="#eec3b5"/>
<circle cx="491.4" cy="343.9" r="3.0" fill="#eec3b5"/>
<circle cx="496.4" cy="347.5" r="3.1" fill="#eec3b5"/>
<circle cx="492.0" cy="348.1" r="3.3" fill="#eec3b5"/>
<circle cx="497.0" cy="351.7" r="3.2" fill="#eec3b5"/>
<circle cx="492.5" cy="352.3" r="2.6" fill="#eec3b5"/>
<circle cx="497.6" cy="356.0" r="2.6" fill="#eec3b5"/>
<circle cx="493.1" cy="356.6" r="3.2" fill="#eec3b5"/>
<circle cx="498.1" cy="360.2" r="3.3" fill="#eec3b5"/>
<circle cx="493.6" cy="360.8" r="3.1" fill="#eec3b5"/>
<circle cx="498.7" cy="364.5" r="3.0" fill="#eec3b5"/>
<circle cx="494.2" cy="365.1" r="2.7" fill="#eec3b5"/>
<circle cx="499.2" cy="368.7" r="2.7" fill="#eec3b5"/>
<circle cx="494.8" cy="369.3" r="3.3" fill="#eec3b5"/>
<circle cx="497.0" cy="369.0" r="3.5" fill="#eec3b5"/>
<circle cx="500.9" cy="321.0" r="2.7" fill="#eec3b5"/>
<circle cx="496.7" cy="322.3" r="3.3" fill="#eec3b5"/>
<circle cx="502.3" cy="325.1" r="3.4" fill="#eec3b5"/>
<circle cx="498.0" cy="326.5" r="2.9" fill="#eec3b5"/>
<circle cx="503.6" cy="329.2" r="2.8" fill="#eec3b5"/>
<circle cx="499.3" cy="330.6" r="2.8" fill="#eec3b5"/>
<circle cx="504.9" cy="333.4" r="2.9" fill="#eec3b5"/>
<circle cx="500.6" cy="334.7" r="3.4" fill="#eec3b5"/>
<circle cx="506.2" cy="337.5" r="3.3" fill="#eec3b5"/>
<circle cx="501.9" cy="338.9" r="2.7" fill="#eec3b5"/>
<circle cx="507.5" cy="341.6" r="2.7" fill="#eec3b5"/>
<circle cx="503.3" cy="343.0" r="3.0" fill="#eec3b5"/>
<circle cx="508.9" cy="345.8" r="3.1" fill="#eec3b5"/>
<circle cx="504.6" cy="347.1" r="3.3" fill="#eec3b5"/>
<circle cx="510.2" cy="349.9" r="3.2" fill="#eec3b5"/>
<circle cx="505.9" cy="351.3" r="2.6" fill="#eec3b5"/>
<circle cx="511.5" cy="354.0" r="2.6" fill="#eec3b5"/>
<circle cx="507.2" cy="355.4" r="3.2" fill="#eec3b5"/>
<circle cx="512.8" cy="358.2" r="3.3" fill="#eec3b5"/>
<circle cx="508.5" cy="359.5" r="3.1" fill="#eec3b5"/>
<circle cx="514.1" cy="362.3" r="3.0" fill="#eec3b5"/>
<circle cx="509.9" cy="363.7" r="2.7" fill="#eec3b5"/>
<circle cx="512.0" cy="363.0" r="3.5" fill="#eec3b5"/>
<circle cx="504.1" cy="318.5" r="2.7" fill="#eec3b5"/>
<circle cx="500.4" cy="321.1" r="3.3" fill="#eec3b5"/>
<circle cx="506.5" cy="322.1" r="3.4" fill="#eec3b5"/>
<circle cx="502.8" cy="324.6" r="2.9" fill="#eec3b5"/>
<circle cx="508.9" cy="325.6" r="2.8" fill="#eec3b5"/>
<circle cx="505.1" cy="328.1" r="2.8" fill="#eec3b5"/>
<circle cx="511.2" cy="329.1" r="2.9" fill="#eec3b5"/>
<circle cx="507.5" cy="331.6" r="3.4" fill="#eec3b5"/>
<circle cx="513.6" cy="332.6" r="3.3" fill="#eec3b5"/>
<circle cx="509.9" cy="335.1" r="2.7" fill="#eec3b5"/>
<circle cx="516.0" cy="336.1" r="2.7" fill="#eec3b5"/>
<circle cx="512.3" cy="338.7" r="3.0" fill="#eec3b5"/>
<circle cx="518.4" cy="339.7" r="3.1" fill="#eec3b5"/>
<circle cx="514.6" cy="342.2" r="3.3" fill="#eec3b5"/>
<circle cx="520.7" cy="343.2" r="3.2" fill="#eec3b5"/>
<circle cx="517.0" cy="345.7" r="2.6" fill="#eec3b5"/>
<circle cx="523.1" cy="346.7" r="2.6" fill="#eec3b5"/>
<circle cx="519.4" cy="349.2" r="3.2" fill="#eec3b5"/>
<circle cx="525.5" cy="350.2" r="3.3" fill="#eec3b5"/>
<circle cx="521.8" cy="352.7" r="3.1" fill="#eec3b5"/>
<circle cx="527.9" cy="353.7" r="3.0" fill="#eec3b5"/>
<circle cx="524.1" cy="356.3" r="2.7" fill="#eec3b5"/>
<circle cx="526.0" cy="355.0" r="3.5" fill="#eec3b5"/>
<circle cx="506.0" cy="314.8" r="2.7" fill="#eec3b5"/>
<circle cx="503.2" cy="318.4" r="3.3" fill="#eec3b5"/>
<circle cx="509.3" cy="317.5" r="3.4" fill="#eec3b5"/>
<circle cx="506.5" cy="321.0" r="2.9" fill="#eec3b5"/>
<circle cx="512.6" cy="320.1" r="2.8" fill="#eec3b5"/>
<circle cx="509.9" cy="323.6" r="2.8" fill="#eec3b5"/>
<circle cx="516.0" cy="322.8" r="2.9" fill="#eec3b5"/>
<circle cx="513.2" cy="326.3" r="3.4" fill="#eec3b5"/>
<circle cx="519.3" cy="325.4" r="3.3" fill="#eec3b5"/>
<circle cx="516.5" cy="328.9" r="2.7" fill="#eec3b5"/>
<circle cx="522.7" cy="328.0" r="2.7" fill="#eec3b5"/>
<circle cx="519.9" cy="331.6" r="3.0" fill="#eec3b5"/>
<circle cx="526.0" cy="330.7" r="3.1" fill="#eec3b5"/>
<circle cx="523.2" cy="334.2" r="3.3" fill="#eec3b5"/>
<circle cx="529.4" cy="333.3" r="3.2" fill="#eec3b5"/>
<circle cx="526.6" cy="336.8" r="2.6" fill="#eec3b5"/>
<circle cx="532.7" cy="336.0" r="2.6" fill="#eec3b5"/>
<circle cx="529.9" cy="339.5" r="3.2" fill="#eec3b5"/>
<circle cx="536.1" cy="338.6" r="3.3" fill="#eec3b5"/>
<circle cx="533.3" cy="342.1" r="3.1" fill="#eec3b5"/>
<circle cx="539.4" cy="341.2" r="3.0" fill="#eec3b5"/>
<circle cx="536.6" cy="344.8" r="2.7" fill="#eec3b5"/>
<circle cx="538.0" cy="343.0" r="3.5" fill="#eec3b5"/>
<circle cx="430.9" cy="245.2" r="1.8" fill="#f1cabd"/>
<circle cx="436.7" cy="246.6" r="1.8" fill="#f1cabd"/>
<circle cx="432.3" cy="238.9" r="1.8" fill="#f1cabd"/>
<circle cx="438.1" cy="240.3" r="1.8" fill="#f1cabd"/>
<circle cx="441.8" cy="251.5" r="1.8" fill="#f1cabd"/>
<circle cx="447.8" cy="252.4" r="1.8" fill="#f1cabd"/>
<circle cx="443.2" cy="241.4" r="1.8" fill="#f1cabd"/>
<circle cx="449.2" cy="242.2" r="1.8" fill="#f1cabd"/>
<circle cx="453.8" cy="258.3" r="1.8" fill="#f1cabd"/>
<circle cx="459.8" cy="259.1" r="1.8" fill="#f1cabd"/>
<circle cx="455.2" cy="246.4" r="1.8" fill="#f1cabd"/>
<circle cx="461.2" cy="247.2" r="1.8" fill="#f1cabd"/>
<circle cx="466.3" cy="265.7" r="1.8" fill="#f1cabd"/>
<circle cx="472.2" cy="266.6" r="1.8" fill="#f1cabd"/>
<circle cx="468.0" cy="254.2" r="1.8" fill="#f1cabd"/>
<circle cx="474.0" cy="255.0" r="1.8" fill="#f1cabd"/>
<circle cx="477.7" cy="275.0" r="1.8" fill="#f1cabd"/>
<circle cx="483.5" cy="276.4" r="1.8" fill="#f1cabd"/>
<circle cx="480.5" cy="263.1" r="1.8" fill="#f1cabd"/>
<circle cx="486.3" cy="264.5" r="1.8" fill="#f1cabd"/>
<circle cx="489.1" cy="281.8" r="1.8" fill="#f1cabd"/>
<circle cx="494.8" cy="283.6" r="1.8" fill="#f1cabd"/>
<circle cx="492.9" cy="269.9" r="1.8" fill="#f1cabd"/>
<circle cx="498.7" cy="271.7" r="1.8" fill="#f1cabd"/>
<circle cx="501.0" cy="287.5" r="1.8" fill="#f1cabd"/>
<circle cx="506.1" cy="290.6" r="1.8" fill="#f1cabd"/>
<circle cx="507.6" cy="276.6" r="1.8" fill="#f1cabd"/>
<circle cx="512.8" cy="279.8" r="1.8" fill="#f1cabd"/>
<circle cx="511.6" cy="292.4" r="1.8" fill="#f1cabd"/>
<circle cx="515.2" cy="297.1" r="1.8" fill="#f1cabd"/>
<circle cx="522.8" cy="283.6" r="1.8" fill="#f1cabd"/>
<circle cx="526.4" cy="288.4" r="1.8" fill="#f1cabd"/>
<circle cx="520.2" cy="298.4" r="1.8" fill="#f1cabd"/>
<circle cx="522.1" cy="304.1" r="1.8" fill="#f1cabd"/>
<circle cx="536.7" cy="293.1" r="1.8" fill="#f1cabd"/>
<circle cx="538.5" cy="298.9" r="1.8" fill="#f1cabd"/>
<circle cx="522.9" cy="307.6" r="1.8" fill="#f1cabd"/>
<circle cx="523.0" cy="313.5" r="1.8" fill="#f1cabd"/>
<circle cx="540.7" cy="307.2" r="1.8" fill="#f1cabd"/>
<circle cx="540.9" cy="313.2" r="1.8" fill="#f1cabd"/>
<circle cx="520.4" cy="317.4" r="1.8" fill="#f1cabd"/>
<circle cx="518.8" cy="323.2" r="1.8" fill="#f1cabd"/>
<circle cx="537.2" cy="322.3" r="1.8" fill="#f1cabd"/>
<circle cx="535.6" cy="328.1" r="1.8" fill="#f1cabd"/>
<circle cx="444.9" cy="338.4" r="1.8" fill="#f1cabd"/>
<circle cx="439.0" cy="337.2" r="1.8" fill="#f1cabd"/>
<circle cx="441.7" cy="353.8" r="1.8" fill="#f1cabd"/>
<circle cx="435.9" cy="352.6" r="1.8" fill="#f1cabd"/>
<circle cx="457.7" cy="340.2" r="1.8" fill="#f1cabd"/>
<circle cx="451.8" cy="339.7" r="1.8" fill="#f1cabd"/>
<circle cx="456.0" cy="358.1" r="1.8" fill="#f1cabd"/>
<circle cx="450.0" cy="357.5" r="1.8" fill="#f1cabd"/>
<circle cx="470.5" cy="341.3" r="1.8" fill="#f1cabd"/>
<circle cx="464.6" cy="341.1" r="1.8" fill="#f1cabd"/>
<circle cx="470.2" cy="360.9" r="1.8" fill="#f1cabd"/>
<circle cx="464.2" cy="360.7" r="1.8" fill="#f1cabd"/>
<circle cx="483.3" cy="341.6" r="1.8" fill="#f1cabd"/>
<circle cx="477.4" cy="341.9" r="1.8" fill="#f1cabd"/>
<circle cx="484.4" cy="360.8" r="1.8" fill="#f1cabd"/>
<circle cx="478.4" cy="361.2" r="1.8" fill="#f1cabd"/>
<circle cx="496.1" cy="339.5" r="1.8" fill="#f1cabd"/>
<circle cx="490.2" cy="340.2" r="1.8" fill="#f1cabd"/>
<circle cx="498.6" cy="358.0" r="1.8" fill="#f1cabd"/>
<circle cx="492.6" cy="358.8" r="1.8" fill="#f1cabd"/>
<circle cx="506.6" cy="336.2" r="1.8" fill="#f1cabd"/>
<circle cx="500.9" cy="338.1" r="1.8" fill="#f1cabd"/>
<circle cx="511.9" cy="352.7" r="1.8" fill="#f1cabd"/>
<circle cx="506.1" cy="354.5" r="1.8" fill="#f1cabd"/>
<circle cx="513.6" cy="331.3" r="1.8" fill="#f1cabd"/>
<circle cx="508.7" cy="334.7" r="1.8" fill="#f1cabd"/>
<circle cx="523.1" cy="345.3" r="1.8" fill="#f1cabd"/>
<circle cx="518.1" cy="348.7" r="1.8" fill="#f1cabd"/>
<circle cx="519.0" cy="324.1" r="1.8" fill="#f1cabd"/>
<circle cx="515.2" cy="328.9" r="1.8" fill="#f1cabd"/>
<circle cx="532.3" cy="334.6" r="1.8" fill="#f1cabd"/>
<circle cx="528.5" cy="339.4" r="1.8" fill="#f1cabd"/>
<path d="M432.6,251.3 L435.2,239.6 M433.4,247.7 L438.6,245.2 M438.6,245.2 l-0.2,-1.7 M434.0,245.0 L430.4,240.5 M430.4,240.5 l0.9,-1.5 M434.6,242.3 L439.0,240.2 M439.0,240.2 l-0.2,-1.7 M435.2,239.6 L438.6,237.9 M438.6,237.9 l-0.2,-1.7 M435.2,239.6 L432.8,236.6 M432.8,236.6 l0.9,-1.5" fill="none" stroke="#8e5243" stroke-width="0.6" opacity="0.8" stroke-linecap="round"/>
<path d="M443.6,260.6 L446.2,241.8 M444.4,254.8 L449.3,251.9 M449.3,251.9 l-0.3,-1.7 M445.0,250.5 L441.0,246.3 M441.0,246.3 l0.8,-1.5 M445.6,246.2 L449.8,243.7 M449.8,243.7 l-0.3,-1.7 M446.2,241.8 L449.5,239.8 M449.5,239.8 l-0.3,-1.7 M446.2,241.8 L443.6,239.0 M443.6,239.0 l0.8,-1.5" fill="none" stroke="#8e5243" stroke-width="0.6" opacity="0.8" stroke-linecap="round"/>
<path d="M455.6,268.9 L458.2,246.8 M456.4,262.1 L461.3,259.1 M461.3,259.1 l-0.3,-1.7 M457.0,257.0 L453.0,252.9 M453.0,252.9 l0.7,-1.5 M457.6,251.9 L461.7,249.3 M461.7,249.3 l-0.3,-1.7 M458.2,246.8 L461.5,244.8 M461.5,244.8 l-0.3,-1.7 M458.2,246.8 L455.5,244.1 M455.5,244.1 l0.7,-1.5" fill="none" stroke="#8e5243" stroke-width="0.6" opacity="0.8" stroke-linecap="round"/>
<path d="M467.8,276.1 L471.0,254.6 M468.8,269.4 L473.7,266.6 M473.7,266.6 l-0.3,-1.7 M469.5,264.5 L465.6,260.3 M465.6,260.3 l0.8,-1.5 M470.2,259.6 L474.5,257.1 M474.5,257.1 l-0.3,-1.7 M471.0,254.6 L474.3,252.7 M474.3,252.7 l-0.3,-1.7 M471.0,254.6 L468.4,251.8 M468.4,251.8 l0.8,-1.5" fill="none" stroke="#8e5243" stroke-width="0.6" opacity="0.8" stroke-linecap="round"/>
<path d="M478.2,285.9 L483.4,263.8 M479.8,279.1 L485.0,276.6 M485.0,276.6 l-0.2,-1.7 M481.0,274.0 L477.4,269.5 M477.4,269.5 l0.9,-1.5 M482.2,268.9 L486.6,266.8 M486.6,266.8 l-0.2,-1.7 M483.4,263.8 L486.9,262.2 M486.9,262.2 l-0.2,-1.7 M483.4,263.8 L481.0,260.8 M481.0,260.8 l0.9,-1.5" fill="none" stroke="#8e5243" stroke-width="0.6" opacity="0.8" stroke-linecap="round"/>
<path d="M488.6,292.9 L495.8,270.8 M490.9,286.1 L496.2,284.1 M496.2,284.1 l-0.0,-1.7 M492.5,281.0 L489.3,276.2 M489.3,276.2 l1.0,-1.4 M494.1,275.9 L498.7,274.2 M498.7,274.2 l-0.0,-1.7 M495.8,270.8 L499.4,269.4 M499.4,269.4 l-0.0,-1.7 M495.8,270.8 L493.7,267.6 M493.7,267.6 l1.0,-1.4" fill="none" stroke="#8e5243" stroke-width="0.6" opacity="0.8" stroke-linecap="round"/>
<path d="M497.9,298.4 L510.2,278.2 M501.6,292.1 L507.4,291.4 M507.4,291.4 l0.4,-1.7 M504.5,287.5 L502.5,282.1 M502.5,282.1 l1.3,-1.1 M507.4,282.9 L512.2,282.2 M512.2,282.2 l0.4,-1.7 M510.2,278.2 L514.0,277.7 M514.0,277.7 l0.4,-1.7 M510.2,278.2 L508.9,274.6 M508.9,274.6 l1.3,-1.1" fill="none" stroke="#8e5243" stroke-width="0.6" opacity="0.8" stroke-linecap="round"/>
<path d="M503.8,302.2 L524.6,286.0 M510.2,297.2 L515.8,298.6 M515.8,298.6 l0.9,-1.4 M515.0,293.5 L515.1,287.7 M515.1,287.7 l1.6,-0.6 M519.8,289.8 L524.5,290.9 M524.5,290.9 l0.9,-1.4 M524.6,286.0 L528.3,286.9 M528.3,286.9 l0.9,-1.4 M524.6,286.0 L524.6,282.2 M524.6,282.2 l1.6,-0.6" fill="none" stroke="#8e5243" stroke-width="0.6" opacity="0.8" stroke-linecap="round"/>
<path d="M507.1,305.8 L537.6,296.0 M516.5,302.8 L521.2,305.9 M521.2,305.9 l1.4,-1.0 M523.5,300.5 L525.6,295.1 M525.6,295.1 l1.7,0.0 M530.5,298.2 L534.6,300.9 M534.6,300.9 l1.4,-1.0 M537.6,296.0 L540.8,298.1 M540.8,298.1 l1.4,-1.0 M537.6,296.0 L539.0,292.4 M539.0,292.4 l1.7,0.0" fill="none" stroke="#8e5243" stroke-width="0.6" opacity="0.8" stroke-linecap="round"/>
<path d="M507.6,310.9 L540.8,310.2 M517.9,310.6 L521.5,315.1 M521.5,315.1 l1.6,-0.6 M525.5,310.5 L529.0,305.9 M529.0,305.9 l1.6,0.5 M533.1,310.4 L536.3,314.1 M536.3,314.1 l1.6,-0.6 M540.8,310.2 L543.3,313.2 M543.3,313.2 l1.6,-0.6 M540.8,310.2 L543.1,307.2 M543.1,307.2 l1.6,0.5" fill="none" stroke="#8e5243" stroke-width="0.6" opacity="0.8" stroke-linecap="round"/>
<path d="M505.2,316.1 L536.4,325.2 M514.8,318.9 L517.0,324.2 M517.0,324.2 l1.7,-0.1 M522.0,321.0 L526.7,317.7 M526.7,317.7 l1.4,1.0 M529.2,323.1 L531.1,327.6 M531.1,327.6 l1.7,-0.1 M536.4,325.2 L537.9,328.8 M537.9,328.8 l1.7,-0.1 M536.4,325.2 L539.5,323.0 M539.5,323.0 l1.4,1.0" fill="none" stroke="#8e5243" stroke-width="0.6" opacity="0.8" stroke-linecap="round"/>
<path d="M444.6,324.6 L438.8,353.2 M442.9,333.4 L437.7,336.0 M437.7,336.0 l0.2,1.7 M441.5,340.0 L445.2,344.4 M445.2,344.4 l-0.9,1.5 M440.1,346.6 L435.8,348.8 M435.8,348.8 l0.2,1.7 M438.8,353.2 L435.4,355.0 M435.4,355.0 l0.2,1.7 M438.8,353.2 L441.3,356.2 M441.3,356.2 l-0.9,1.5" fill="none" stroke="#8e5243" stroke-width="0.6" opacity="0.8" stroke-linecap="round"/>
<path d="M456.2,324.6 L453.0,357.8 M455.2,334.9 L450.4,338.0 M450.4,338.0 l0.4,1.7 M454.5,342.5 L458.6,346.5 M458.6,346.5 l-0.7,1.6 M453.8,350.1 L449.7,352.8 M449.7,352.8 l0.4,1.7 M453.0,357.8 L449.8,359.9 M449.8,359.9 l0.4,1.7 M453.0,357.8 L455.8,360.5 M455.8,360.5 l-0.7,1.6" fill="none" stroke="#8e5243" stroke-width="0.6" opacity="0.8" stroke-linecap="round"/>
<path d="M467.9,324.4 L467.2,360.8 M467.6,335.6 L463.1,339.1 M463.1,339.1 l0.5,1.6 M467.5,344.0 L471.9,347.7 M471.9,347.7 l-0.6,1.6 M467.4,352.4 L463.5,355.4 M463.5,355.4 l0.5,1.6 M467.2,360.8 L464.2,363.1 M464.2,363.1 l0.5,1.6 M467.2,360.8 L470.2,363.3 M470.2,363.3 l-0.6,1.6" fill="none" stroke="#8e5243" stroke-width="0.6" opacity="0.8" stroke-linecap="round"/>
<path d="M479.4,325.2 L481.4,361.0 M480.1,336.2 L475.8,340.1 M475.8,340.1 l0.6,1.6 M480.5,344.5 L485.2,347.8 M485.2,347.8 l-0.5,1.6 M480.9,352.8 L477.3,356.0 M477.3,356.0 l0.6,1.6 M481.4,361.0 L478.5,363.6 M478.5,363.6 l0.6,1.6 M481.4,361.0 L484.5,363.2 M484.5,363.2 l-0.5,1.6" fill="none" stroke="#8e5243" stroke-width="0.6" opacity="0.8" stroke-linecap="round"/>
<path d="M491.1,323.9 L495.6,358.4 M492.4,334.6 L488.5,338.7 M488.5,338.7 l0.7,1.5 M493.5,342.5 L498.4,345.5 M498.4,345.5 l-0.3,1.7 M494.6,350.4 L491.2,354.0 M491.2,354.0 l0.7,1.5 M495.6,358.4 L492.9,361.2 M492.9,361.2 l0.7,1.5 M495.6,358.4 L498.9,360.4 M498.9,360.4 l-0.3,1.7" fill="none" stroke="#8e5243" stroke-width="0.6" opacity="0.8" stroke-linecap="round"/>
<path d="M499.2,323.1 L509.0,353.6 M502.2,332.4 L499.1,337.2 M499.1,337.2 l1.0,1.4 M504.5,339.5 L509.9,341.6 M509.9,341.6 l-0.0,1.7 M506.8,346.6 L504.1,350.6 M504.1,350.6 l1.0,1.4 M509.0,353.6 L506.9,356.8 M506.9,356.8 l1.0,1.4 M509.0,353.6 L512.6,355.0 M512.6,355.0 l-0.0,1.7" fill="none" stroke="#8e5243" stroke-width="0.6" opacity="0.8" stroke-linecap="round"/>
<path d="M503.1,321.0 L520.6,347.0 M508.4,329.0 L506.7,334.5 M506.7,334.5 l1.4,1.0 M512.5,335.0 L518.2,335.5 M518.2,335.5 l0.5,1.6 M516.5,341.0 L515.1,345.6 M515.1,345.6 l1.4,1.0 M520.6,347.0 L519.5,350.7 M519.5,350.7 l1.4,1.0 M520.6,347.0 L524.4,347.3 M524.4,347.3 l0.5,1.6" fill="none" stroke="#8e5243" stroke-width="0.6" opacity="0.8" stroke-linecap="round"/>
<path d="M505.7,317.5 L530.4,337.0 M513.3,323.5 L513.3,329.3 M513.3,329.3 l1.6,0.6 M519.0,328.0 L524.6,326.7 M524.6,326.7 l0.9,1.4 M524.7,332.5 L524.7,337.4 M524.7,337.4 l1.6,0.6 M530.4,337.0 L530.4,340.8 M530.4,340.8 l1.6,0.6 M530.4,337.0 L534.1,336.1 M534.1,336.1 l0.9,1.4" fill="none" stroke="#8e5243" stroke-width="0.6" opacity="0.8" stroke-linecap="round"/>
<clipPath id="bandclip"><path d="M426.0,242.0 C435.3,247.7 431.8,236.6 436.0,234.0 C440.2,231.4 446.9,228.4 451.0,226.7 C455.1,225.0 457.2,224.5 460.8,223.8 C464.4,223.2 468.6,222.8 472.5,222.8 C476.4,222.8 480.6,223.3 484.2,223.8 C487.8,224.3 490.8,224.2 494.0,225.7 C497.2,227.2 499.9,230.1 503.4,232.6 C506.9,235.1 511.3,238.1 515.2,240.4 C519.1,242.7 523.3,244.6 526.9,246.2 C530.5,247.9 533.4,248.9 536.6,250.2 C539.9,251.5 543.5,252.5 546.4,254.1 C549.3,255.7 551.9,257.4 554.2,260.0 C556.5,262.6 558.5,266.4 560.0,269.7 C561.5,272.9 562.3,275.6 563.0,279.5 C563.7,283.4 564.2,288.9 564.4,293.1 C564.6,297.4 564.7,301.2 564.0,305.0 C563.3,308.8 562.0,311.8 560.0,316.0 C558.0,320.2 555.0,325.9 552.0,330.0 C549.0,334.1 544.9,337.5 542.0,340.5 C539.1,343.5 537.8,345.5 534.5,348.0 C531.2,350.5 511.6,346.8 522.5,355.5 C533.4,364.2 623.8,392.6 600.0,400.0 C576.2,407.4 416.7,433.3 380.0,400.0 C343.3,366.7 372.3,226.3 380.0,200.0 C387.7,173.7 416.7,236.3 426.0,242.0Z"/></clipPath>
<g>
<path d="M436.0,232.0 L450.2,220.7 Q446.5,230.4 448.7,240.7 L436.0,238.0 Q433.0,235.0 436.0,232.0Z" fill="#dd8e79" stroke="#dd8e79" stroke-width="0.4"/>
<path d="M444.3,225.4 Q440.8,232.3 443.4,239.5" fill="none" stroke="#e7a28d" stroke-width="8.4" stroke-linecap="round"/>
<path d="M444.8,225.0 Q441.4,232.1 443.9,239.6" fill="none" stroke="#edb19d" stroke-width="3.8" stroke-linecap="round"/>
<path d="M436.0,232.0 Q433.0,235.0 436.0,238.0" fill="none" stroke="#bf6a56" stroke-width="1.1"/>
<path d="M450.2,220.7 L466.3,212.6 Q460.5,228.4 460.7,245.2 L448.7,240.7 Q446.5,230.4 450.2,220.7Z" fill="#dd8e79" stroke="#dd8e79" stroke-width="0.4"/>
<path d="M459.5,216.0 Q454.6,229.2 455.7,243.3" fill="none" stroke="#e7a28d" stroke-width="8.3" stroke-linecap="round"/>
<path d="M460.2,215.7 Q455.2,229.1 456.2,243.5" fill="none" stroke="#edb19d" stroke-width="3.8" stroke-linecap="round"/>
<path d="M450.2,220.7 Q446.5,230.4 448.7,240.7" fill="none" stroke="#bf6a56" stroke-width="1.1"/>
<path d="M466.3,212.6 L483.7,208.9 Q474.7,229.9 471.4,252.5 L460.7,245.2 Q460.5,228.4 466.3,212.6Z" fill="#dd8e79" stroke="#dd8e79" stroke-width="0.4"/>
<path d="M476.4,210.4 Q468.8,229.2 466.9,249.4" fill="none" stroke="#e7a28d" stroke-width="8.4" stroke-linecap="round"/>
<path d="M477.1,210.3 Q469.3,229.3 467.4,249.7" fill="none" stroke="#edb19d" stroke-width="3.8" stroke-linecap="round"/>
<path d="M466.3,212.6 Q460.5,228.4 460.7,245.2" fill="none" stroke="#bf6a56" stroke-width="1.1"/>
<path d="M483.7,208.9 L500.8,209.2 Q488.6,233.6 482.0,260.0 L471.4,252.5 Q474.7,229.9 483.7,208.9Z" fill="#dd8e79" stroke="#dd8e79" stroke-width="0.4"/>
<path d="M493.6,209.0 Q482.8,232.0 477.6,256.9" fill="none" stroke="#e7a28d" stroke-width="8.3" stroke-linecap="round"/>
<path d="M494.3,209.0 Q483.3,232.1 478.0,257.2" fill="none" stroke="#edb19d" stroke-width="3.8" stroke-linecap="round"/>
<path d="M483.7,208.9 Q474.7,229.9 471.4,252.5" fill="none" stroke="#bf6a56" stroke-width="1.1"/>
<path d="M500.8,209.2 L513.5,219.9 Q501.0,241.3 494.0,265.2 L482.0,260.0 Q488.6,233.6 500.8,209.2Z" fill="#dd8e79" stroke="#dd8e79" stroke-width="0.4"/>
<path d="M508.2,215.4 Q495.8,238.1 489.0,263.0" fill="none" stroke="#e7a28d" stroke-width="8.4" stroke-linecap="round"/>
<path d="M508.7,215.8 Q496.3,238.4 489.4,263.2" fill="none" stroke="#edb19d" stroke-width="3.8" stroke-linecap="round"/>
<path d="M500.8,209.2 Q488.6,233.6 482.0,260.0" fill="none" stroke="#bf6a56" stroke-width="1.1"/>
<path d="M513.5,219.9 L527.2,228.8 Q513.8,248.5 505.7,270.8 L494.0,265.2 Q501.0,241.3 513.5,219.9Z" fill="#dd8e79" stroke="#dd8e79" stroke-width="0.4"/>
<path d="M521.5,225.1 Q508.4,245.5 500.8,268.5" fill="none" stroke="#e7a28d" stroke-width="8.4" stroke-linecap="round"/>
<path d="M522.0,225.4 Q508.9,245.8 501.2,268.7" fill="none" stroke="#edb19d" stroke-width="3.8" stroke-linecap="round"/>
<path d="M513.5,219.9 Q501.0,241.3 494.0,265.2" fill="none" stroke="#bf6a56" stroke-width="1.1"/>
<path d="M527.2,228.8 L542.6,234.9 Q527.1,254.7 516.7,277.6 L505.7,270.8 Q513.8,248.5 527.2,228.8Z" fill="#dd8e79" stroke="#dd8e79" stroke-width="0.4"/>
<path d="M536.1,232.3 Q521.5,252.1 512.1,274.8" fill="none" stroke="#e7a28d" stroke-width="8.4" stroke-linecap="round"/>
<path d="M536.7,232.6 Q522.0,252.3 512.5,275.0" fill="none" stroke="#edb19d" stroke-width="3.8" stroke-linecap="round"/>
<path d="M527.2,228.8 Q513.8,248.5 505.7,270.8" fill="none" stroke="#bf6a56" stroke-width="1.1"/>
<path d="M542.6,234.9 L557.5,241.4 Q540.6,260.4 528.6,282.8 L516.7,277.6 Q527.1,254.7 542.6,234.9Z" fill="#dd8e79" stroke="#dd8e79" stroke-width="0.4"/>
<path d="M551.2,238.7 Q534.9,258.0 523.6,280.6" fill="none" stroke="#e7a28d" stroke-width="8.4" stroke-linecap="round"/>
<path d="M551.8,238.9 Q535.5,258.2 524.1,280.9" fill="none" stroke="#edb19d" stroke-width="3.8" stroke-linecap="round"/>
<path d="M542.6,234.9 Q527.1,254.7 516.7,277.6" fill="none" stroke="#bf6a56" stroke-width="1.1"/>
<path d="M557.5,241.4 L566.6,255.7 Q551.3,269.7 540.7,287.5 L528.6,282.8 Q540.6,260.4 557.5,241.4Z" fill="#dd8e79" stroke="#dd8e79" stroke-width="0.4"/>
<path d="M562.8,249.7 Q546.8,265.8 535.6,285.5" fill="none" stroke="#e7a28d" stroke-width="8.2" stroke-linecap="round"/>
<path d="M563.1,250.3 Q547.3,266.2 536.1,285.7" fill="none" stroke="#edb19d" stroke-width="3.7" stroke-linecap="round"/>
<path d="M557.5,241.4 Q540.6,260.4 528.6,282.8" fill="none" stroke="#bf6a56" stroke-width="1.1"/>
<path d="M566.6,255.7 L568.9,273.7 Q557.9,282.0 551.4,294.2 L540.7,287.5 Q551.3,269.7 566.6,255.7Z" fill="#dd8e79" stroke="#dd8e79" stroke-width="0.4"/>
<path d="M568.0,266.2 Q555.1,276.9 546.9,291.4" fill="none" stroke="#e7a28d" stroke-width="8.3" stroke-linecap="round"/>
<path d="M568.0,266.9 Q555.4,277.4 547.4,291.7" fill="none" stroke="#edb19d" stroke-width="3.8" stroke-linecap="round"/>
<path d="M566.6,255.7 Q551.3,269.7 540.7,287.5" fill="none" stroke="#bf6a56" stroke-width="1.1"/>
<path d="M568.9,273.7 L568.3,290.7 Q560.0,296.5 556.4,305.9 L551.4,294.2 Q557.9,282.0 568.9,273.7Z" fill="#dd8e79" stroke="#dd8e79" stroke-width="0.4"/>
<path d="M568.5,283.6 Q559.1,290.4 554.3,301.0" fill="none" stroke="#e7a28d" stroke-width="8.4" stroke-linecap="round"/>
<path d="M568.5,284.2 Q559.2,291.0 554.5,301.5" fill="none" stroke="#edb19d" stroke-width="3.8" stroke-linecap="round"/>
<path d="M568.9,273.7 Q557.9,282.0 551.4,294.2" fill="none" stroke="#bf6a56" stroke-width="1.1"/>
<path d="M568.3,290.7 L565.2,306.6 Q558.0,310.8 555.4,318.7 L556.4,305.9 Q560.0,296.5 568.3,290.7Z" fill="#dd8e79" stroke="#dd8e79" stroke-width="0.4"/>
<path d="M566.5,299.9 Q558.8,304.8 555.8,313.3" fill="none" stroke="#e7a28d" stroke-width="8.3" stroke-linecap="round"/>
<path d="M566.4,300.6 Q558.7,305.3 555.8,313.8" fill="none" stroke="#edb19d" stroke-width="3.8" stroke-linecap="round"/>
<path d="M568.3,290.7 Q560.0,296.5 556.4,305.9" fill="none" stroke="#bf6a56" stroke-width="1.1"/>
<path d="M565.2,306.6 L557.8,321.2 Q551.7,324.0 550.2,330.5 L555.4,318.7 Q558.0,310.8 565.2,306.6Z" fill="#dd8e79" stroke="#dd8e79" stroke-width="0.4"/>
<path d="M560.9,315.1 Q554.3,318.4 552.4,325.6" fill="none" stroke="#e7a28d" stroke-width="8.4" stroke-linecap="round"/>
<path d="M560.6,315.7 Q554.1,319.0 552.2,326.0" fill="none" stroke="#edb19d" stroke-width="3.8" stroke-linecap="round"/>
<path d="M565.2,306.6 Q558.0,310.8 555.4,318.7" fill="none" stroke="#bf6a56" stroke-width="1.1"/>
<path d="M557.8,321.2 L548.1,334.4 Q542.9,335.1 541.8,340.2 L550.2,330.5 Q551.7,324.0 557.8,321.2Z" fill="#dd8e79" stroke="#dd8e79" stroke-width="0.4"/>
<path d="M552.1,328.8 Q546.5,330.5 545.3,336.2" fill="none" stroke="#e7a28d" stroke-width="8.3" stroke-linecap="round"/>
<path d="M551.8,329.4 Q546.2,330.9 545.0,336.5" fill="none" stroke="#edb19d" stroke-width="3.8" stroke-linecap="round"/>
<path d="M557.8,321.2 Q551.7,324.0 550.2,330.5" fill="none" stroke="#bf6a56" stroke-width="1.1"/>
<path d="M548.1,334.4 L537.1,346.6 Q533.4,344.7 531.7,348.4 L541.8,340.2 Q542.9,335.1 548.1,334.4Z" fill="#dd8e79" stroke="#dd8e79" stroke-width="0.4"/>
<path d="M541.7,341.5 Q537.3,340.7 535.9,345.0" fill="none" stroke="#e7a28d" stroke-width="8.4" stroke-linecap="round"/>
<path d="M541.3,341.9 Q536.9,341.0 535.5,345.3" fill="none" stroke="#edb19d" stroke-width="3.8" stroke-linecap="round"/>
<path d="M548.1,334.4 Q542.9,335.1 541.8,340.2" fill="none" stroke="#bf6a56" stroke-width="1.1"/>
<path d="M537.1,346.6 L523.8,356.2 Q523.4,352.6 520.0,354.0 L531.7,348.4 Q533.4,344.7 537.1,346.6Z" fill="#dd8e79" stroke="#dd8e79" stroke-width="0.4"/>
<path d="M529.3,352.2 Q527.5,349.0 524.9,351.7" fill="none" stroke="#e7a28d" stroke-width="8.4" stroke-linecap="round"/>
<path d="M528.8,352.6 Q527.1,349.3 524.5,351.9" fill="none" stroke="#edb19d" stroke-width="3.8" stroke-linecap="round"/>
<path d="M537.1,346.6 Q533.4,344.7 531.7,348.4" fill="none" stroke="#bf6a56" stroke-width="1.1"/>
</g>
<path d="M436.0,238.0 Q443.1,235.9 448.7,240.7 Q455.9,239.6 460.7,245.2 Q468.1,246.0 471.4,252.5 Q478.8,253.4 482.0,260.0 Q489.4,259.4 494.0,265.2 Q501.4,264.9 505.7,270.8 Q513.0,271.2 516.7,277.6 Q524.1,277.0 528.6,282.8 Q535.9,281.9 540.7,287.5 Q548.0,287.9 551.4,294.2 Q557.1,298.7 556.4,305.9 Q559.4,312.6 555.4,318.7 Q556.0,326.0 550.2,330.5 Q548.6,337.7 541.8,340.2 Q539.0,347.0 531.7,348.4 Q527.4,354.4 520.0,354.0" fill="none" stroke="#dea393" stroke-width="0.9"/>
<path d="M407.0,247.0 C407.0,243.9 413.8,245.0 416.7,245.0 C419.6,245.0 422.2,245.9 424.5,247.0 C426.8,248.1 427.5,248.6 430.4,251.7 C433.3,254.8 437.8,261.5 442.0,265.4 C446.2,269.3 451.6,272.7 455.8,275.0 C460.1,277.3 464.2,276.7 467.5,279.0 C470.8,281.3 472.7,285.9 475.3,288.8 C477.9,291.7 480.4,294.7 483.0,296.6 C485.6,298.6 488.5,299.6 491.0,300.5 C493.5,301.4 496.0,300.9 498.0,302.0 C500.0,303.1 503.0,305.2 503.0,307.0 C503.0,308.8 500.0,311.8 498.0,313.0 C496.0,314.2 494.1,313.7 491.0,314.2 C487.9,314.7 483.1,316.2 479.2,316.2 C475.3,316.2 471.4,314.2 467.5,314.2 C463.6,314.2 459.4,315.6 455.8,316.2 C452.2,316.8 448.3,318.4 446.0,318.0 C443.7,317.6 443.6,315.9 442.0,314.0 C440.4,312.1 438.2,309.6 436.2,306.4 C434.3,303.2 432.4,298.9 430.4,294.7 C428.4,290.5 426.8,286.2 424.5,281.0 C422.2,275.8 419.6,269.1 416.7,263.4 C413.8,257.7 407.0,250.1 407.0,247.0Z" fill="#f2d0c6" stroke="none" stroke-width="0.8" />
<path d="M440,279 q2.5,-3 5,0 t5,0 t5,1 t5,2 t5,3 t4,4 t4,5 M436,300 q3,-3 6,0 t6,0 t6,1 t6,2" fill="none" stroke="#ebb9ab" stroke-width="2.2"/>
</g>
<path d="M424.0,247.0 C425.3,237.7 431.5,237.4 436.0,234.0 C440.5,230.6 446.9,228.4 451.0,226.7 C455.1,225.0 457.2,224.5 460.8,223.8 C464.4,223.2 468.6,222.8 472.5,222.8 C476.4,222.8 480.6,223.3 484.2,223.8 C487.8,224.3 490.8,224.2 494.0,225.7 C497.2,227.2 499.9,230.1 503.4,232.6 C506.9,235.1 511.3,238.1 515.2,240.4 C519.1,242.7 523.3,244.6 526.9,246.2 C530.5,247.9 533.4,248.9 536.6,250.2 C539.9,251.5 543.5,252.5 546.4,254.1 C549.3,255.7 551.9,257.4 554.2,260.0 C556.5,262.6 558.5,266.4 560.0,269.7 C561.5,272.9 562.3,275.6 563.0,279.5 C563.7,283.4 564.2,288.9 564.4,293.1 C564.6,297.4 564.7,301.2 564.0,305.0 C563.3,308.8 562.0,311.8 560.0,316.0 C558.0,320.2 555.0,325.9 552.0,330.0 C549.0,334.1 544.9,337.5 542.0,340.5 C539.1,343.5 537.8,345.5 534.5,348.0 C531.2,350.5 527.0,353.0 522.5,355.5 C518.0,358.0 512.5,361.0 507.5,363.0 C502.5,365.0 497.5,366.4 492.5,367.5 C487.5,368.6 482.5,369.6 477.5,369.7 C472.5,369.8 467.5,368.9 462.5,368.0 C457.5,367.1 452.2,365.8 447.5,364.5 C442.8,363.2 437.2,362.4 434.0,360.0 C430.8,357.6 429.0,353.5 428.0,350.0 C427.0,346.5 426.8,342.6 428.0,339.0 C429.2,335.4 433.2,331.5 435.5,328.5 C437.8,325.5 440.5,323.2 441.5,321.0 C442.5,318.8 442.2,317.0 441.5,315.0 C440.8,313.0 438.5,311.0 437.0,309.0 C435.5,307.0 434.0,306.2 432.5,303.0 C431.0,299.8 429.4,299.3 428.0,290.0 C426.6,280.7 422.7,256.3 424.0,247.0Z" fill="none" stroke="#e39b86" stroke-width="2.2" clip-path="url(#cbclip)"/>
<path d="M424.0,247.0 C425.3,237.7 431.5,237.4 436.0,234.0 C440.5,230.6 446.9,228.4 451.0,226.7 C455.1,225.0 457.2,224.5 460.8,223.8 C464.4,223.2 468.6,222.8 472.5,222.8 C476.4,222.8 480.6,223.3 484.2,223.8 C487.8,224.3 490.8,224.2 494.0,225.7 C497.2,227.2 499.9,230.1 503.4,232.6 C506.9,235.1 511.3,238.1 515.2,240.4 C519.1,242.7 523.3,244.6 526.9,246.2 C530.5,247.9 533.4,248.9 536.6,250.2 C539.9,251.5 543.5,252.5 546.4,254.1 C549.3,255.7 551.9,257.4 554.2,260.0 C556.5,262.6 558.5,266.4 560.0,269.7 C561.5,272.9 562.3,275.6 563.0,279.5 C563.7,283.4 564.2,288.9 564.4,293.1 C564.6,297.4 564.7,301.2 564.0,305.0 C563.3,308.8 562.0,311.8 560.0,316.0 C558.0,320.2 555.0,325.9 552.0,330.0 C549.0,334.1 544.9,337.5 542.0,340.5 C539.1,343.5 537.8,345.5 534.5,348.0 C531.2,350.5 527.0,353.0 522.5,355.5 C518.0,358.0 512.5,361.0 507.5,363.0 C502.5,365.0 497.5,366.4 492.5,367.5 C487.5,368.6 482.5,369.6 477.5,369.7 C472.5,369.8 467.5,368.9 462.5,368.0 C457.5,367.1 452.2,365.8 447.5,364.5 C442.8,363.2 437.2,362.4 434.0,360.0 C430.8,357.6 429.0,353.5 428.0,350.0 C427.0,346.5 426.8,342.6 428.0,339.0 C429.2,335.4 433.2,331.5 435.5,328.5 C437.8,325.5 440.5,323.2 441.5,321.0 C442.5,318.8 442.2,317.0 441.5,315.0 C440.8,313.0 438.5,311.0 437.0,309.0 C435.5,307.0 434.0,306.2 432.5,303.0 C431.0,299.8 429.4,299.3 428.0,290.0 C426.6,280.7 422.7,256.3 424.0,247.0Z" fill="none" stroke="#c9775f" stroke-width="0.9"/>
<circle cx="449.8" cy="226.1" r="1.7" fill="#fff"/>
<path d="M451.3,227.2 Q449.7,228.1 448.1,227.0" fill="none" stroke="#c9775f" stroke-width="0.8"/>
<circle cx="464.6" cy="222.3" r="1.7" fill="#fff"/>
<path d="M466.0,223.6 Q464.3,224.3 462.9,223.0" fill="none" stroke="#c9775f" stroke-width="0.8"/>
<circle cx="480.0" cy="222.3" r="1.7" fill="#fff"/>
<path d="M481.2,223.7 Q479.4,224.2 478.1,222.8" fill="none" stroke="#c9775f" stroke-width="0.8"/>
<circle cx="495.0" cy="225.0" r="1.7" fill="#fff"/>
<path d="M496.1,226.5 Q494.3,226.9 493.1,225.4" fill="none" stroke="#c9775f" stroke-width="0.8"/>
<circle cx="507.5" cy="233.9" r="1.7" fill="#fff"/>
<path d="M508.5,235.4 Q506.7,235.7 505.6,234.2" fill="none" stroke="#c9775f" stroke-width="0.8"/>
<circle cx="520.6" cy="241.8" r="1.7" fill="#fff"/>
<path d="M521.6,243.4 Q519.7,243.5 518.7,241.9" fill="none" stroke="#c9775f" stroke-width="0.8"/>
<circle cx="534.6" cy="248.1" r="1.7" fill="#fff"/>
<path d="M535.4,249.8 Q533.5,249.8 532.7,248.1" fill="none" stroke="#c9775f" stroke-width="0.8"/>
<circle cx="548.6" cy="254.2" r="1.7" fill="#fff"/>
<path d="M549.3,256.0 Q547.4,255.9 546.7,254.1" fill="none" stroke="#c9775f" stroke-width="0.8"/>
<circle cx="558.7" cy="265.4" r="1.7" fill="#fff"/>
<path d="M559.3,267.2 Q557.5,266.9 556.9,265.1" fill="none" stroke="#c9775f" stroke-width="0.8"/>
<circle cx="563.9" cy="279.6" r="1.7" fill="#fff"/>
<path d="M564.5,281.4 Q562.6,281.2 562.0,279.4" fill="none" stroke="#c9775f" stroke-width="0.8"/>
<circle cx="565.0" cy="294.8" r="1.7" fill="#fff"/>
<path d="M565.7,296.6 Q563.8,296.4 563.2,294.6" fill="none" stroke="#c9775f" stroke-width="0.8"/>
<path d="M430.0,226.0 C431.8,223.7 436.8,219.8 440.0,219.0 C443.2,218.2 447.0,219.2 449.0,221.0 C451.0,222.8 452.2,226.8 452.0,230.0 C451.8,233.2 450.0,237.7 448.0,240.0 C446.0,242.3 442.7,244.0 440.0,244.0 C437.3,244.0 433.8,241.8 432.0,240.0 C430.2,238.2 429.3,235.3 429.0,233.0 C428.7,230.7 428.2,228.3 430.0,226.0Z" fill="url(#gBump)" stroke="#c97a67" stroke-width="0.7" />
<path d="M402.0,226.0 C404.2,221.7 411.3,222.0 416.0,222.0 C420.7,222.0 427.0,223.7 430.0,226.0 C433.0,228.3 434.3,232.3 434.0,236.0 C433.7,239.7 431.3,245.2 428.0,248.0 C424.7,250.8 418.2,253.0 414.0,253.0 C409.8,253.0 405.0,252.5 403.0,248.0 C401.0,243.5 399.8,230.3 402.0,226.0Z" fill="url(#gBump)" stroke="none" stroke-width="0.8" opacity="0.75"/>
<path d="M406.0,248.0 C406.8,246.5 411.0,244.3 414.0,244.0 C417.0,243.7 421.3,244.7 424.0,246.0 C426.7,247.3 428.0,249.3 430.0,252.0 C432.0,254.7 434.0,258.0 436.0,262.0 C438.0,266.0 440.7,271.0 442.0,276.0 C443.3,281.0 444.2,287.0 444.0,292.0 C443.8,297.0 442.3,303.7 441.0,306.0 C439.7,308.3 437.8,308.0 436.0,306.0 C434.2,304.0 432.0,298.3 430.0,294.0 C428.0,289.7 426.3,285.2 424.0,280.0 C421.7,274.8 418.5,267.5 416.0,263.0 C413.5,258.5 410.7,255.5 409.0,253.0 C407.3,250.5 405.2,249.5 406.0,248.0Z" fill="#f4d3c7" stroke="none" stroke-width="0.8" />
<path d="M408.0,252.0 C409.3,254.0 413.3,259.2 416.0,264.0 C418.7,268.8 421.6,275.9 424.0,281.0 C426.4,286.1 428.4,290.5 430.4,294.7 C432.4,298.9 434.3,303.2 436.2,306.4 C438.2,309.6 441.0,312.7 442.0,314.0" fill="none" stroke="#c87764" stroke-width="0.8" />
<g stroke="#4a4a4a" stroke-width="1" fill="none">
<line x1="289.1" y1="26.1" x2="399.1" y2="126.1"/>
<line x1="269.0" y1="54.1" x2="391.7" y2="146.9"/>
<line x1="247.3" y1="81.6" x2="335.6" y2="122.3"/>
<line x1="233.7" y1="104.0" x2="290.5" y2="116.0"/>
<line x1="224.5" y1="131.6" x2="399.5" y2="175.7"/>
<line x1="224.9" y1="159.3" x2="377.0" y2="184.5"/>
<line x1="230.0" y1="187.4" x2="353.5" y2="207.3"/>
<line x1="237.8" y1="215.5" x2="382.2" y2="210.1"/>
<line x1="248.5" y1="243.0" x2="398.7" y2="220.3"/>
<line x1="260.2" y1="270.7" x2="399.2" y2="239.0"/>
<line x1="264.4" y1="298.8" x2="377.2" y2="282.5"/>
<line x1="272.1" y1="326.4" x2="342.8" y2="300.4"/>
<line x1="281.5" y1="346.8" x2="388.3" y2="286.0"/>
<line x1="290.4" y1="376.6" x2="373.8" y2="303.0"/>
<line x1="309.4" y1="403.6" x2="393.6" y2="320.6"/>
<line x1="329.1" y1="430.4" x2="369.0" y2="357.5"/>
<line x1="340.1" y1="459.0" x2="388.2" y2="332.4"/>
<line x1="369.5" y1="487.3" x2="384.5" y2="395.4"/>
<line x1="504.3" y1="22.1" x2="418.3" y2="97.7"/>
<line x1="546.3" y1="48.0" x2="472.3" y2="98.5"/>
<line x1="557.8" y1="74.8" x2="439.6" y2="130.5"/>
<line x1="568.9" y1="102.1" x2="408.7" y2="156.2"/>
<line x1="580.0" y1="128.4" x2="453.2" y2="180.5"/>
<line x1="587.8" y1="148.1" x2="475.0" y2="179.0"/>
<line x1="592.3" y1="175.1" x2="430.4" y2="219.0"/>
<line x1="600.6" y1="201.3" x2="443.0" y2="227.0"/>
<line x1="600.6" y1="228.4" x2="420.9" y2="236.8"/>
<line x1="597.1" y1="254.4" x2="510.0" y2="275.3"/>
<line x1="593.2" y1="280.7" x2="470.3" y2="303.4"/>
<line x1="588.0" y1="307.2" x2="406.4" y2="310.5"/>
<line x1="582.2" y1="333.9" x2="479.7" y2="314.7"/>
<line x1="575.4" y1="359.9" x2="398.1" y2="347.0"/>
<line x1="557.3" y1="386.6" x2="410.0" y2="356.0"/>
<line x1="535.5" y1="407.7" x2="422.3" y2="365.2"/>
<line x1="519.8" y1="434.4" x2="423.8" y2="397.8"/>
<line x1="498.2" y1="460.9" x2="399.3" y2="390.4"/>
<line x1="468.2" y1="487.3" x2="404.3" y2="406.5"/>
</g>
<g fill="#111">
<circle cx="399.1" cy="126.1" r="1.9"/>
<circle cx="391.7" cy="146.9" r="1.9"/>
<circle cx="335.6" cy="122.3" r="1.9"/>
<circle cx="290.5" cy="116.0" r="1.9"/>
<circle cx="399.5" cy="175.7" r="1.9"/>
<circle cx="377.0" cy="184.5" r="1.9"/>
<circle cx="353.5" cy="207.3" r="1.9"/>
<circle cx="382.2" cy="210.1" r="1.9"/>
<circle cx="398.7" cy="220.3" r="1.9"/>
<circle cx="399.2" cy="239.0" r="1.9"/>
<circle cx="377.2" cy="282.5" r="1.9"/>
<circle cx="342.8" cy="300.4" r="1.9"/>
<circle cx="388.3" cy="286.0" r="1.9"/>
<circle cx="373.8" cy="303.0" r="1.9"/>
<circle cx="393.6" cy="320.6" r="1.9"/>
<circle cx="369.0" cy="357.5" r="1.9"/>
<circle cx="388.2" cy="332.4" r="1.9"/>
<circle cx="384.5" cy="395.4" r="1.9"/>
<circle cx="418.3" cy="97.7" r="1.9"/>
<circle cx="472.3" cy="98.5" r="1.9"/>
<circle cx="439.6" cy="130.5" r="1.9"/>
<circle cx="408.7" cy="156.2" r="1.9"/>
<circle cx="453.2" cy="180.5" r="1.9"/>
<circle cx="475.0" cy="179.0" r="1.9"/>
<circle cx="430.4" cy="219.0" r="1.9"/>
<circle cx="443.0" cy="227.0" r="1.9"/>
<circle cx="420.9" cy="236.8" r="1.9"/>
<circle cx="510.0" cy="275.3" r="1.9"/>
<circle cx="470.3" cy="303.4" r="1.9"/>
<circle cx="406.4" cy="310.5" r="1.9"/>
<circle cx="479.7" cy="314.7" r="1.9"/>
<circle cx="398.1" cy="347.0" r="1.9"/>
<circle cx="410.0" cy="356.0" r="1.9"/>
<circle cx="422.3" cy="365.2" r="1.9"/>
<circle cx="423.8" cy="397.8" r="1.9"/>
<circle cx="399.3" cy="390.4" r="1.9"/>
<circle cx="404.3" cy="406.5" r="1.9"/>
</g>
<g>
<text x="194.4" y="25.4" textLength="88.7" lengthAdjust="spacingAndGlyphs">Third ventricle</text>
<text x="174.5" y="52.8" textLength="87.9" lengthAdjust="spacingAndGlyphs">Taenia thalami</text>
<text x="166.5" y="80.7" textLength="74.6" lengthAdjust="spacingAndGlyphs">Choroid line</text>
<text x="124.5" y="108.6" textLength="102.3" lengthAdjust="spacingAndGlyphs">Caudate nucleus</text>
<text x="144.5" y="135.4" textLength="73.5" lengthAdjust="spacingAndGlyphs">Pineal gland</text>
<text x="104.0" y="162.9" textLength="114.0" lengthAdjust="spacingAndGlyphs">Superior colliculus</text>
<text x="110.5" y="190.8" textLength="113.1" lengthAdjust="spacingAndGlyphs">Cerebral peduncle</text>
<text x="124.0" y="219.7" textLength="107.4" lengthAdjust="spacingAndGlyphs">Inferior colliculus</text>
<text x="111.0" y="242.1" textLength="130.7" lengthAdjust="spacingAndGlyphs">Frenulum of superior</text>
<text x="136.5" y="253.3" textLength="103.8" lengthAdjust="spacingAndGlyphs">medullary velum</text>
<text x="94.5" y="274.3" textLength="159.5" lengthAdjust="spacingAndGlyphs">Superior medullary velum</text>
<text x="158.0" y="303.8" textLength="100.0" lengthAdjust="spacingAndGlyphs">Locus coeruleus</text>
<text x="94.0" y="329.8" textLength="171.8" lengthAdjust="spacingAndGlyphs">Inferior cerebellar peduncle</text>
<text x="171.0" y="357.0" textLength="103.4" lengthAdjust="spacingAndGlyphs">Medial eminence</text>
<text x="193.0" y="386.7" textLength="91.5" lengthAdjust="spacingAndGlyphs">Vestibular area</text>
<text x="178.0" y="412.7" textLength="124.3" lengthAdjust="spacingAndGlyphs">Hypoglossal trigone</text>
<text x="203.0" y="440.6" textLength="119.3" lengthAdjust="spacingAndGlyphs">Trigeminal tubercle</text>
<text x="252.5" y="468.5" textLength="80.9" lengthAdjust="spacingAndGlyphs">Vagal trigone</text>
<text x="246.5" y="497.1" textLength="116.1" lengthAdjust="spacingAndGlyphs">Cuneate fasciculus</text>
<text x="511.1" y="21.3" textLength="162.9" lengthAdjust="spacingAndGlyphs">Anterior thalamic tubercle</text>
<text x="553.5" y="47.7" textLength="82.5" lengthAdjust="spacingAndGlyphs">Terminal stria</text>
<text x="565.2" y="74.0" textLength="58.3" lengthAdjust="spacingAndGlyphs">Thalamus</text>
<text x="574.5" y="98.9" textLength="112.5" lengthAdjust="spacingAndGlyphs">Habenular trigone</text>
<text x="585.5" y="125.6" textLength="159.5" lengthAdjust="spacingAndGlyphs">Medial geniculate nucleus</text>
<text x="593.5" y="152.1" textLength="163.0" lengthAdjust="spacingAndGlyphs">Lateral geniculate nucleus</text>
<text x="599.0" y="179.5" textLength="96.5" lengthAdjust="spacingAndGlyphs">Trochlear nerve</text>
<text x="606.8" y="205.4" textLength="167.2" lengthAdjust="spacingAndGlyphs">Middle cerebellar peduncle</text>
<text x="606.8" y="231.7" textLength="178.7" lengthAdjust="spacingAndGlyphs">Superior cerebellar peduncle</text>
<text x="603.9" y="259.0" textLength="107.1" lengthAdjust="spacingAndGlyphs">Cerebellar cortex</text>
<text x="599.0" y="285.4" textLength="101.5" lengthAdjust="spacingAndGlyphs">Dentate nucleus</text>
<text x="594.5" y="306.8" textLength="115.5" lengthAdjust="spacingAndGlyphs">Medullary striae of</text>
<text x="594.5" y="318.1" textLength="97.5" lengthAdjust="spacingAndGlyphs">fourth ventricle</text>
<text x="589.0" y="337.9" textLength="71.5" lengthAdjust="spacingAndGlyphs">Cerebellum</text>
<text x="582.2" y="364.8" textLength="31.3" lengthAdjust="spacingAndGlyphs">Obex</text>
<text x="565.0" y="391.4" textLength="98.0" lengthAdjust="spacingAndGlyphs">Gracile tubercle</text>
<text x="542.5" y="418.1" textLength="107.0" lengthAdjust="spacingAndGlyphs">Cuneate tubercle</text>
<text x="526.0" y="444.6" textLength="102.5" lengthAdjust="spacingAndGlyphs">Lateral funiculus</text>
<text x="504.0" y="470.9" textLength="148.5" lengthAdjust="spacingAndGlyphs">Posterior median sulcus</text>
<text x="474.5" y="497.4" textLength="107.0" lengthAdjust="spacingAndGlyphs">Gracile fasciculus</text>
</g>
<text x="590.5" y="501" textLength="127.3" lengthAdjust="spacingAndGlyphs" style="fill:#8c9399;stroke:none;font-weight:bold;font-size:12.5px">© www.kenhub.com</text>
<rect x="732" y="443.2" width="57.7" height="57.2" rx="2.2" fill="#1e9bf0"/>
<text x="745.3" y="469.2" textLength="31.2" lengthAdjust="spacing" style="fill:#fff;stroke:#fff;stroke-width:0.35px;font-size:13px">KEN</text>
<text x="746" y="485.1" textLength="30.2" lengthAdjust="spacing" style="fill:#fff;stroke:#fff;stroke-width:0.35px;font-size:13px">HUB</text>
</svg>
</body></html>
